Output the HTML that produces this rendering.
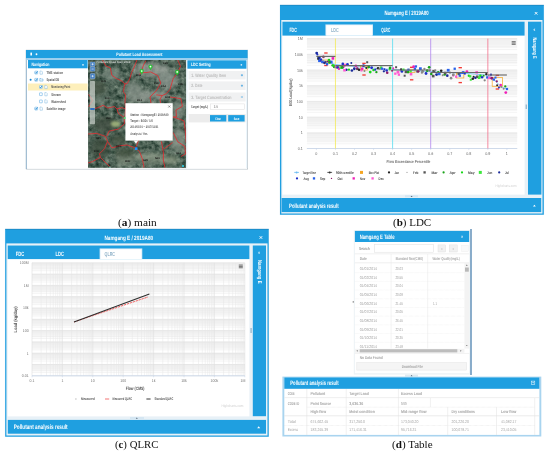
<!DOCTYPE html>
<html lang="en"><head><meta charset="utf-8"><title>Pollutant Load Assessment – figure</title>
<style>
html,body{margin:0;padding:0;background:#fff;}
body{width:550px;height:454px;position:relative;overflow:hidden;font-family:"Liberation Sans",sans-serif;}
svg{position:absolute;left:0;top:0;}
svg text{font-family:"Liberation Sans",sans-serif;text-rendering:geometricPrecision;}
.cap{position:absolute;font-family:"Liberation Serif",serif;font-size:11.2px;line-height:12px;color:#111;white-space:nowrap;transform-origin:0 0;}
.cap b{font-weight:bold;}
</style></head><body>
<svg width="550" height="454" viewBox="0 0 550 454">
<g id="fig-a">
<rect x="25.90" y="49.80" width="222.10" height="119.60" fill="#a9b4bc" />
<rect x="26.50" y="50.00" width="220.90" height="118.80" fill="#fff" />
<rect x="26.50" y="58.00" width="220.90" height="2.40" fill="#e4f1fa" />
<line x1="26.30" y1="50.00" x2="26.30" y2="169.00" stroke="#6f9fc6" stroke-width="0.6" />
<rect x="26.00" y="50.00" width="221.60" height="8.40" fill="#1f9fe0" />
<rect x="26.00" y="58.40" width="221.60" height="1.60" fill="#9fd0ee" />
<text x="116.30" y="55.95" font-size="4.58" fill="#fff" font-weight="bold" text-anchor="start" textLength="46.20" lengthAdjust="spacingAndGlyphs" >Pollutant Load Assessment</text>
<rect x="30.40" y="52.60" width="1.60" height="3.00" fill="#fff" rx="0.5"/>
<rect x="35.60" y="53.20" width="1.80" height="2.00" fill="#fff" rx="0.9"/>
<rect x="27.40" y="60.00" width="60.40" height="108.60" fill="#fff" />
<rect x="28.00" y="60.00" width="59.60" height="8.30" fill="#1f9fe0" />
<text x="31.50" y="65.95" font-size="4.58" fill="#fff" font-weight="bold" text-anchor="start" textLength="18.00" lengthAdjust="spacingAndGlyphs" >Navigation</text>
<text x="82.00" y="65.70" font-size="4.17" fill="#fff" font-weight="bold" text-anchor="start" textLength="2.00" lengthAdjust="spacingAndGlyphs" >«</text>
<rect x="28.00" y="83.50" width="59.60" height="7.00" fill="#fdefbb" />
<rect x="34.80" y="71.20" width="2.80" height="2.80" fill="#fff" stroke="#6db3e6" stroke-width="0.6" rx="0.3"/><polyline points="35.30,72.60 36.00,73.40 37.50,71.40" fill="none" stroke="#1b86d0" stroke-width="0.9" />
<path d="M40.00 71.00 h1.5 l0.9 0.9 v2.3 h-2.4 z" fill="#fff" stroke="#7fb6dd" stroke-width="0.5"/>
<text x="46.40" y="74.03" font-size="3.96" fill="#555" font-weight="bold" text-anchor="start" textLength="16.60" lengthAdjust="spacingAndGlyphs" >TMS station</text>
<circle cx="30.6" cy="79.8" r="1" fill="#1b86d0"/>
<rect x="34.80" y="78.40" width="2.80" height="2.80" fill="#fff" stroke="#6db3e6" stroke-width="0.6" rx="0.3"/><polyline points="35.30,79.80 36.00,80.60 37.50,78.60" fill="none" stroke="#1b86d0" stroke-width="0.9" />
<path d="M39.80 78.50 h1.2 l0.5 0.5 h1.5 v2.1 h-3.2 z" fill="#eaf4fb" stroke="#5aa6dd" stroke-width="0.5"/>
<text x="46.40" y="81.23" font-size="3.96" fill="#555" font-weight="bold" text-anchor="start" textLength="12.80" lengthAdjust="spacingAndGlyphs" >Spatial DB</text>
<rect x="39.50" y="85.60" width="2.80" height="2.80" fill="#fff" stroke="#6db3e6" stroke-width="0.6" rx="0.3"/><polyline points="40.00,87.00 40.70,87.80 42.20,85.80" fill="none" stroke="#1b86d0" stroke-width="0.9" />
<path d="M44.80 85.40 h1.5 l0.9 0.9 v2.3 h-2.4 z" fill="#fff" stroke="#7fb6dd" stroke-width="0.5"/>
<text x="51.30" y="88.43" font-size="3.96" fill="#555" font-weight="bold" text-anchor="start" textLength="18.90" lengthAdjust="spacingAndGlyphs" >Monitoring Point</text>
<rect x="39.50" y="92.80" width="2.80" height="2.80" fill="#fff" stroke="#6db3e6" stroke-width="0.6" rx="0.3"/>
<path d="M44.80 92.60 h1.5 l0.9 0.9 v2.3 h-2.4 z" fill="#fff" stroke="#7fb6dd" stroke-width="0.5"/>
<text x="51.30" y="95.63" font-size="3.96" fill="#555" font-weight="bold" text-anchor="start" textLength="9.50" lengthAdjust="spacingAndGlyphs" >Stream</text>
<rect x="39.50" y="100.00" width="2.80" height="2.80" fill="#fff" stroke="#6db3e6" stroke-width="0.6" rx="0.3"/>
<path d="M44.80 99.80 h1.5 l0.9 0.9 v2.3 h-2.4 z" fill="#fff" stroke="#7fb6dd" stroke-width="0.5"/>
<text x="51.30" y="102.83" font-size="3.96" fill="#555" font-weight="bold" text-anchor="start" textLength="14.70" lengthAdjust="spacingAndGlyphs" >Watershed</text>
<rect x="34.80" y="107.20" width="2.80" height="2.80" fill="#fff" stroke="#6db3e6" stroke-width="0.6" rx="0.3"/><polyline points="35.30,108.60 36.00,109.40 37.50,107.40" fill="none" stroke="#1b86d0" stroke-width="0.9" />
<path d="M40.00 107.00 h1.5 l0.9 0.9 v2.3 h-2.4 z" fill="#fff" stroke="#7fb6dd" stroke-width="0.5"/>
<text x="46.40" y="110.03" font-size="3.96" fill="#555" font-weight="bold" text-anchor="start" textLength="19.20" lengthAdjust="spacingAndGlyphs" >Satellite image</text>
<defs>
<filter id="sat" x="0" y="0" width="100%" height="100%" color-interpolation-filters="sRGB">
<feTurbulence type="fractalNoise" baseFrequency="0.22" numOctaves="3" seed="11" result="n"/>
<feColorMatrix in="n" type="matrix" values="0.60 0.1 0 0 -0.045  0.56 0.12 0 0 0.045  0.54 0.1 0 0 0.02  0 0 0 0 1"/>
</filter>
<filter id="bl" x="-30%" y="-30%" width="160%" height="160%"><feGaussianBlur stdDeviation="2.2"/></filter>
<filter id="bl1" x="-30%" y="-30%" width="160%" height="160%"><feGaussianBlur stdDeviation="0.9"/></filter>
<clipPath id="mapclip"><rect x="88.10" y="60.00" width="98.10" height="107.80"/></clipPath>
</defs>
<g clip-path="url(#mapclip)">
<rect x="88.10" y="60.00" width="98.10" height="107.80" fill="#4f6557" />
<rect x="88.1" y="60" width="98.10" height="107.80" filter="url(#sat)" opacity="0.9"/>
<g filter="url(#bl)" opacity="0.75">
<ellipse cx="150" cy="70" rx="16" ry="7" fill="#9aa19a"/>
<ellipse cx="168" cy="80" rx="10" ry="9" fill="#929b94"/>
<ellipse cx="140" cy="96" rx="14" ry="6" fill="#9ba39b"/>
<ellipse cx="133" cy="90" rx="8" ry="8" fill="#8a958c"/>
<ellipse cx="160" cy="95" rx="9" ry="5" fill="#949d95"/>
<ellipse cx="112" cy="75" rx="9" ry="6" fill="#7f8f84"/>
<ellipse cx="178" cy="110" rx="6" ry="10" fill="#87948a"/>
<ellipse cx="178" cy="140" rx="7" ry="12" fill="#8f9a8e"/>
<ellipse cx="150" cy="158" rx="16" ry="6" fill="#8a9785"/>
<ellipse cx="125" cy="160" rx="10" ry="5" fill="#83907f"/>
<ellipse cx="170" cy="160" rx="9" ry="5" fill="#88957f"/>
<ellipse cx="100" cy="100" rx="6" ry="5" fill="#74877a"/>
<ellipse cx="160" cy="68" rx="10" ry="4" fill="#a3a8a2"/>
<ellipse cx="105" cy="125" rx="12" ry="8" fill="#3f4d3f"/>
<ellipse cx="100" cy="148" rx="9" ry="10" fill="#3e4b3d"/>
<ellipse cx="118" cy="140" rx="8" ry="6" fill="#445243"/>
<ellipse cx="98" cy="88" rx="8" ry="8" fill="#465544"/>
<ellipse cx="125" cy="153" rx="10" ry="5" fill="#465443"/>
<ellipse cx="160" cy="125" rx="6" ry="8" fill="#4a5847"/>
</g>
<ellipse cx="115.5" cy="124" rx="4.6" ry="3" fill="#9fb27c" filter="url(#bl1)" opacity="0.9"/>
<polyline points="102.50,60.00 105.80,65.90 110.40,67.90 111.80,75.20 116.40,78.50 121.00,80.50 125.00,83.80" fill="none" stroke="#e32a2e" stroke-width="0.85" stroke-linejoin="round" opacity="0.95"/>
<polyline points="136.90,60.00 134.20,67.30 131.60,72.50 129.60,79.10 127.00,83.80 125.00,83.80 124.30,86.40 123.40,91.70 125.60,95.00 125.00,101.60 125.60,108.90 125.00,116.60" fill="none" stroke="#e32a2e" stroke-width="0.85" stroke-linejoin="round" opacity="0.95"/>
<polyline points="146.00,60.60 143.50,65.00 142.20,69.00 141.00,72.50 139.50,74.50" fill="none" stroke="#e32a2e" stroke-width="0.85" stroke-linejoin="round" opacity="0.95"/>
<polyline points="140.50,72.70 146.00,72.60 150.50,71.90 154.80,74.00 157.80,75.50 160.80,83.00 156.20,90.90 150.00,97.00 151.00,103.20" fill="none" stroke="#e32a2e" stroke-width="0.85" stroke-linejoin="round" opacity="0.95"/>
<polyline points="156.20,94.90 162.40,95.50" fill="none" stroke="#e32a2e" stroke-width="0.85" stroke-linejoin="round" opacity="0.95"/>
<polyline points="177.70,60.00 180.50,66.30 177.20,73.60 173.20,78.50 170.00,89.30 166.50,93.50 162.40,95.50 160.00,99.00 160.50,103.00" fill="none" stroke="#e32a2e" stroke-width="0.85" stroke-linejoin="round" opacity="0.95"/>
<polyline points="170.00,97.00 180.90,98.60 182.40,106.30 176.00,110.00 176.40,117.00 173.20,117.00" fill="none" stroke="#e32a2e" stroke-width="0.85" stroke-linejoin="round" opacity="0.95"/>
<polyline points="173.20,117.00 184.00,120.80 185.50,132.50 186.20,143.00" fill="none" stroke="#e32a2e" stroke-width="0.85" stroke-linejoin="round" opacity="0.95"/>
<polyline points="173.20,132.50 177.80,141.80 184.90,146.40 185.50,154.00 180.90,156.50" fill="none" stroke="#e32a2e" stroke-width="0.85" stroke-linejoin="round" opacity="0.95"/>
<polyline points="88.60,94.30 92.60,100.30 88.60,106.90" fill="none" stroke="#e32a2e" stroke-width="0.85" stroke-linejoin="round" opacity="0.95"/>
<polyline points="92.00,109.50 97.90,107.60 103.20,105.30 107.80,108.00 114.40,106.60 117.00,108.90 118.40,113.50 124.30,117.50 124.30,123.90 118.50,129.00 109.00,131.20 106.80,136.30" fill="none" stroke="#e32a2e" stroke-width="0.85" stroke-linejoin="round" opacity="0.95"/>
<polyline points="117.00,108.90 121.70,107.60 125.60,108.90" fill="none" stroke="#e32a2e" stroke-width="0.85" stroke-linejoin="round" opacity="0.95"/>
<polyline points="88.00,134.00 96.60,133.40 105.40,136.30 107.50,141.40 104.60,148.60 99.50,153.70 100.30,157.40 92.30,161.70 88.00,163.00" fill="none" stroke="#e32a2e" stroke-width="0.85" stroke-linejoin="round" opacity="0.95"/>
<polyline points="107.50,141.40 111.90,147.90 119.90,145.70 127.20,145.00 135.20,147.90 139.50,151.50 142.30,158.70 143.90,166.40 143.50,167.80" fill="none" stroke="#e32a2e" stroke-width="0.85" stroke-linejoin="round" opacity="0.95"/>
<polyline points="135.90,147.20 138.10,141.40 138.50,139.00" fill="none" stroke="#e32a2e" stroke-width="0.85" stroke-linejoin="round" opacity="0.95"/>
<polyline points="161.40,141.40 163.50,153.00 163.30,160.00 165.00,167.80" fill="none" stroke="#e32a2e" stroke-width="0.85" stroke-linejoin="round" opacity="0.95"/>
<polyline points="172.60,142.50 164.00,149.00" fill="none" stroke="#e32a2e" stroke-width="0.85" stroke-linejoin="round" opacity="0.95"/>
<polyline points="100.30,157.40 106.00,163.00 111.20,167.80" fill="none" stroke="#e32a2e" stroke-width="0.85" stroke-linejoin="round" opacity="0.95"/>
<text x="101.00" y="81.50" font-size="2.5" fill="#111" font-weight="bold" text-anchor="start" textLength="5.20" lengthAdjust="spacingAndGlyphs" >RLP4</text>
<text x="105.00" y="98.50" font-size="2.5" fill="#111" font-weight="bold" text-anchor="start" textLength="5.20" lengthAdjust="spacingAndGlyphs" >KRA2</text>
<text x="154.00" y="84.00" font-size="2.5" fill="#111" font-weight="bold" text-anchor="start" textLength="5.20" lengthAdjust="spacingAndGlyphs" >KNA2</text>
<text x="163.00" y="64.00" font-size="2.5" fill="#111" font-weight="bold" text-anchor="start" textLength="5.20" lengthAdjust="spacingAndGlyphs" >KM1</text>
<text x="136.00" y="76.00" font-size="2.5" fill="#111" font-weight="bold" text-anchor="start" textLength="5.20" lengthAdjust="spacingAndGlyphs" >KH</text>
<text x="106.00" y="119.00" font-size="2.5" fill="#111" font-weight="bold" text-anchor="start" textLength="5.20" lengthAdjust="spacingAndGlyphs" >NNA1</text>
<text x="96.00" y="139.00" font-size="2.5" fill="#111" font-weight="bold" text-anchor="start" textLength="5.20" lengthAdjust="spacingAndGlyphs" >NIP2</text>
<text x="116.00" y="146.60" font-size="2.5" fill="#111" font-weight="bold" text-anchor="start" textLength="5.20" lengthAdjust="spacingAndGlyphs" >NIK3</text>
<text x="94.00" y="152.00" font-size="2.5" fill="#111" font-weight="bold" text-anchor="start" textLength="5.20" lengthAdjust="spacingAndGlyphs" >KUM3</text>
<text x="125.00" y="162.00" font-size="2.5" fill="#111" font-weight="bold" text-anchor="start" textLength="5.20" lengthAdjust="spacingAndGlyphs" >NRM2</text>
<text x="155.00" y="158.50" font-size="2.5" fill="#111" font-weight="bold" text-anchor="start" textLength="5.20" lengthAdjust="spacingAndGlyphs" >NJU</text>
<text x="165.00" y="98.00" font-size="2.5" fill="#111" font-weight="bold" text-anchor="start" textLength="5.20" lengthAdjust="spacingAndGlyphs" >HM</text>
<text x="178.00" y="85.00" font-size="2.5" fill="#111" font-weight="bold" text-anchor="start" textLength="5.20" lengthAdjust="spacingAndGlyphs" >HA</text>
<text x="143.00" y="161.00" font-size="2.5" fill="#111" font-weight="bold" text-anchor="start" textLength="5.20" lengthAdjust="spacingAndGlyphs" >GM1</text>
<text x="137.00" y="101.00" font-size="2.5" fill="#111" font-weight="bold" text-anchor="start" textLength="5.20" lengthAdjust="spacingAndGlyphs" >KL1</text>
<text x="176.00" y="153.50" font-size="2.5" fill="#111" font-weight="bold" text-anchor="start" textLength="5.20" lengthAdjust="spacingAndGlyphs" >SL1</text>
<text x="161.00" y="87.00" font-size="2.5" fill="#111" font-weight="bold" text-anchor="start" textLength="5.20" lengthAdjust="spacingAndGlyphs" >KAA</text>
<text x="96.50" y="63.30" font-size="2.4" fill="#e8e8e8" font-weight="normal" text-anchor="start" textLength="34.00" lengthAdjust="spacingAndGlyphs" >Pollutant Load Map  2019</text>
<rect x="90.20" y="62.00" width="4.80" height="4.50" fill="#4580c4" rx="0.7" stroke="#c9dcf0" stroke-width="0.35"/>
<rect x="90.20" y="66.80" width="4.80" height="4.50" fill="#4580c4" rx="0.7" stroke="#c9dcf0" stroke-width="0.35"/>
<rect x="90.20" y="73.60" width="4.80" height="5.20" fill="#4580c4" rx="0.7" stroke="#c9dcf0" stroke-width="0.35"/>
<line x1="91.50" y1="64.25" x2="93.70" y2="64.25" stroke="#fff" stroke-width="0.6" />
<line x1="92.60" y1="63.15" x2="92.60" y2="65.35" stroke="#fff" stroke-width="0.6" />
<line x1="91.50" y1="69.05" x2="93.70" y2="69.05" stroke="#fff" stroke-width="0.6" />
<line x1="91.50" y1="76.20" x2="93.70" y2="76.20" stroke="#fff" stroke-width="0.6" />
<line x1="92.60" y1="75.10" x2="92.60" y2="77.30" stroke="#fff" stroke-width="0.6" />
<rect x="89.80" y="81.10" width="5.20" height="43.10" fill="#d3d8d3" rx="0.8" opacity="0.68"/>
<rect x="90.20" y="108.00" width="4.60" height="1.90" fill="#2f6fc0" rx="0.4"/>
<path d="M141.70 74.50 C141.10 72.80 139.80 72.20 139.80 71.00 a1.9 1.9 0 1 1 3.8 0 C143.60 72.20 142.30 72.80 141.70 74.50z" fill="#2fd23c" stroke="#1c9a27" stroke-width="0.3"/>
<circle cx="141.7" cy="71.0" r="0.85" fill="#f4fff4"/>
<path d="M150.50 70.10 C149.90 68.40 148.60 67.80 148.60 66.60 a1.9 1.9 0 1 1 3.8 0 C152.40 67.80 151.10 68.40 150.50 70.10z" fill="#2fd23c" stroke="#1c9a27" stroke-width="0.3"/>
<circle cx="150.5" cy="66.6" r="0.85" fill="#f4fff4"/>
<path d="M177.20 75.40 C176.60 73.70 175.30 73.10 175.30 71.90 a1.9 1.9 0 1 1 3.8 0 C179.10 73.10 177.80 73.70 177.20 75.40z" fill="#2fd23c" stroke="#1c9a27" stroke-width="0.3"/>
<circle cx="177.2" cy="71.89999999999999" r="0.85" fill="#f4fff4"/>
<circle cx="183" cy="166" r="1.1" fill="#2bd0e8"/>
<circle cx="110" cy="167.3" r="0.9" fill="#6fe0d0"/>
<rect x="125.40" y="103.20" width="47.30" height="37.40" fill="#fff" />
<path d="M133.6 140.4 L135.9 143.6 L138.3 140.4z" fill="#fff"/>
<polyline points="168.30,105.50 170.30,107.50" fill="none" stroke="#555" stroke-width="0.55" /><polyline points="170.30,105.50 168.30,107.50" fill="none" stroke="#555" stroke-width="0.55" />
<text x="130.20" y="115.61" font-size="3.64" fill="#606060" font-weight="bold" text-anchor="start" textLength="38.30" lengthAdjust="spacingAndGlyphs" >Station : NamgangE / 2019A80</text>
<text x="130.20" y="121.91" font-size="3.64" fill="#606060" font-weight="bold" text-anchor="start" textLength="22.60" lengthAdjust="spacingAndGlyphs" >Target : BOD / 3.5</text>
<text x="130.20" y="128.21" font-size="3.64" fill="#606060" font-weight="bold" text-anchor="start" textLength="28.30" lengthAdjust="spacingAndGlyphs" >2014/01/01 ~ 2017/12/31</text>
<text x="130.20" y="134.81" font-size="3.64" fill="#606060" font-weight="bold" text-anchor="start" textLength="17.30" lengthAdjust="spacingAndGlyphs" >Analysis / Yes</text>
<circle cx="124.7" cy="118" r="1" fill="#52e070"/>
<rect x="134.90" y="147.30" width="2.60" height="2.60" fill="#1e90ff" rx="0.5"/>
</g>
<rect x="186.60" y="60.30" width="60.30" height="108.30" fill="#fff" />
<line x1="187.10" y1="60.30" x2="187.10" y2="168.00" stroke="#d9ecf8" stroke-width="0.6" />
<line x1="246.70" y1="60.30" x2="246.70" y2="168.00" stroke="#d9ecf8" stroke-width="0.6" />
<rect x="187.40" y="60.30" width="59.00" height="8.40" fill="#1f9fe0" />
<text x="191.00" y="66.15" font-size="4.58" fill="#fff" font-weight="bold" text-anchor="start" textLength="19.70" lengthAdjust="spacingAndGlyphs" >LDC Setting</text>
<text x="240.60" y="65.90" font-size="4.17" fill="#fff" font-weight="bold" text-anchor="start" textLength="1.80" lengthAdjust="spacingAndGlyphs" >»</text>
<rect x="188.60" y="71.00" width="57.00" height="8.40" fill="#f0f1f2" />
<text x="191.20" y="76.85" font-size="4.58" fill="#bdbdbd" font-weight="bold" text-anchor="start" textLength="35.10" lengthAdjust="spacingAndGlyphs" >1. Water Quality Item</text>
<line x1="240.90" y1="75.20" x2="243.00" y2="75.20" stroke="#4aa7e2" stroke-width="0.8" />
<line x1="241.95" y1="74.15" x2="241.95" y2="76.25" stroke="#4aa7e2" stroke-width="0.8" />
<rect x="188.60" y="81.40" width="57.00" height="8.60" fill="#f0f1f2" />
<text x="191.20" y="87.35" font-size="4.58" fill="#bdbdbd" font-weight="bold" text-anchor="start" textLength="11.30" lengthAdjust="spacingAndGlyphs" >2. Date</text>
<line x1="240.90" y1="85.70" x2="243.00" y2="85.70" stroke="#4aa7e2" stroke-width="0.8" />
<line x1="241.95" y1="84.65" x2="241.95" y2="86.75" stroke="#4aa7e2" stroke-width="0.8" />
<rect x="188.60" y="92.50" width="57.00" height="9.00" fill="#f0f1f2" />
<text x="191.20" y="98.65" font-size="4.58" fill="#bdbdbd" font-weight="bold" text-anchor="start" textLength="40.40" lengthAdjust="spacingAndGlyphs" >3. Target Concentration</text>
<line x1="240.90" y1="97.00" x2="243.00" y2="97.00" stroke="#4aa7e2" stroke-width="0.8" />
<text x="191.00" y="108.25" font-size="3.75" fill="#555" font-weight="bold" text-anchor="start" textLength="17.00" lengthAdjust="spacingAndGlyphs" >Target (mg/L)</text>
<rect x="210.70" y="103.90" width="33.90" height="5.80" fill="#fff" stroke="#dcdcdc" stroke-width="0.5"/>
<text x="213.80" y="108.25" font-size="3.75" fill="#666" font-weight="normal" text-anchor="start" textLength="4.00" lengthAdjust="spacingAndGlyphs" >3.5</text>
<rect x="188.60" y="114.00" width="57.00" height="8.40" fill="#ececec" />
<rect x="210.00" y="115.10" width="16.30" height="6.40" fill="#1f9fe0" />
<rect x="228.20" y="115.10" width="16.40" height="6.40" fill="#1f9fe0" />
<text x="215.30" y="119.57" font-size="3.54" fill="#fff" font-weight="bold" text-anchor="start" textLength="5.70" lengthAdjust="spacingAndGlyphs" >Clear</text>
<text x="233.70" y="119.57" font-size="3.54" fill="#fff" font-weight="bold" text-anchor="start" textLength="5.50" lengthAdjust="spacingAndGlyphs" >Save</text>
</g>
<g id="fig-b">
<rect x="279.70" y="4.80" width="264.40" height="210.20" fill="#d9ebf6" />
<rect x="280.00" y="5.00" width="263.80" height="209.70" fill="#1f9fe0" />
<line x1="280.00" y1="5.25" x2="543.80" y2="5.25" stroke="#1877ad" stroke-width="0.5" />
<text x="384.50" y="15.34" font-size="6.22" fill="#fff" font-weight="bold" text-anchor="start" textLength="44.10" lengthAdjust="spacingAndGlyphs" >Namgang E / 2019A80</text>
<polyline points="534.80,12.00 537.40,14.60" fill="none" stroke="#fff" stroke-width="0.9" /><polyline points="537.40,12.00 534.80,14.60" fill="none" stroke="#fff" stroke-width="0.9" />
<rect x="281.30" y="20.00" width="261.20" height="193.50" fill="#e8f1f7" />
<rect x="282.40" y="21.70" width="242.20" height="172.90" fill="#fff" />
<rect x="282.40" y="21.70" width="242.20" height="13.90" fill="#1f9fe0" />
<text x="289.40" y="31.70" font-size="6.1" fill="#fff" font-weight="bold" text-anchor="start" textLength="7.40" lengthAdjust="spacingAndGlyphs" >FDC</text>
<rect x="325.40" y="24.40" width="47.60" height="11.20" fill="#cfe6f5" />
<rect x="326.20" y="25.20" width="46.00" height="10.40" fill="#fff" />
<text x="331.00" y="31.90" font-size="5.84" fill="#93b4ca" font-weight="bold" text-anchor="start" textLength="7.60" lengthAdjust="spacingAndGlyphs" >LDC</text>
<text x="381.20" y="31.70" font-size="6.1" fill="#fff" font-weight="bold" text-anchor="start" textLength="9.00" lengthAdjust="spacingAndGlyphs" >QLRC</text>
<rect x="528.00" y="21.70" width="13.40" height="172.90" fill="#1f9fe0" />
<text x="533.40" y="30.83" font-size="5.08" fill="#fff" font-weight="bold" text-anchor="start" textLength="1.80" lengthAdjust="spacingAndGlyphs" >«</text>
<text transform="translate(533.1,37.5) rotate(90)" font-size="5.4" fill="#fff" font-weight="bold" textLength="21" lengthAdjust="spacingAndGlyphs">Namgang E</text>
<rect x="525.60" y="104.50" width="1.40" height="4.50" fill="#9bbbd0" />
<rect x="281.60" y="198.00" width="259.60" height="14.10" fill="#1f9fe0" />
<text x="289.00" y="207.69" font-size="6.35" fill="#fff" font-weight="bold" text-anchor="start" textLength="49.60" lengthAdjust="spacingAndGlyphs" >Pollutant analysis result</text>
<path d="M533 206.6 l1.4 -1.8 l1.4 1.8z" fill="#fff"/>
<rect x="405.00" y="195.30" width="13.00" height="2.00" fill="#d5e6f2" />
<path d="M410.6 196.9 l1 -1.2 l1 1.2z" fill="#567"/>
<rect x="306.90" y="38.60" width="210.30" height="9.73" fill="#f8f8f8" /><rect x="306.90" y="38.60" width="210.30" height="5.65" fill="#f8f8f8" /><rect x="306.90" y="54.30" width="210.30" height="9.73" fill="#f8f8f8" /><rect x="306.90" y="54.30" width="210.30" height="5.65" fill="#f8f8f8" /><rect x="306.90" y="70.00" width="210.30" height="9.73" fill="#f8f8f8" /><rect x="306.90" y="70.00" width="210.30" height="5.65" fill="#f8f8f8" /><rect x="306.90" y="85.70" width="210.30" height="9.73" fill="#f8f8f8" /><rect x="306.90" y="85.70" width="210.30" height="5.65" fill="#f8f8f8" /><rect x="306.90" y="101.40" width="210.30" height="9.73" fill="#f8f8f8" /><rect x="306.90" y="101.40" width="210.30" height="5.65" fill="#f8f8f8" /><rect x="306.90" y="117.10" width="210.30" height="9.73" fill="#f8f8f8" /><rect x="306.90" y="117.10" width="210.30" height="5.65" fill="#f8f8f8" /><rect x="306.90" y="132.80" width="210.30" height="9.73" fill="#f8f8f8" /><rect x="306.90" y="132.80" width="210.30" height="5.65" fill="#f8f8f8" /><line x1="306.90" y1="49.57" x2="517.20" y2="49.57" stroke="#e9e9e9" stroke-width="0.5" /><line x1="306.90" y1="46.81" x2="517.20" y2="46.81" stroke="#e9e9e9" stroke-width="0.5" /><line x1="306.90" y1="44.85" x2="517.20" y2="44.85" stroke="#e9e9e9" stroke-width="0.5" /><line x1="306.90" y1="43.33" x2="517.20" y2="43.33" stroke="#e9e9e9" stroke-width="0.5" /><line x1="306.90" y1="42.08" x2="517.20" y2="42.08" stroke="#e9e9e9" stroke-width="0.5" /><line x1="306.90" y1="41.03" x2="517.20" y2="41.03" stroke="#e9e9e9" stroke-width="0.5" /><line x1="306.90" y1="40.12" x2="517.20" y2="40.12" stroke="#e9e9e9" stroke-width="0.5" /><line x1="306.90" y1="39.32" x2="517.20" y2="39.32" stroke="#e9e9e9" stroke-width="0.5" /><line x1="306.90" y1="65.27" x2="517.20" y2="65.27" stroke="#e9e9e9" stroke-width="0.5" /><line x1="306.90" y1="62.51" x2="517.20" y2="62.51" stroke="#e9e9e9" stroke-width="0.5" /><line x1="306.90" y1="60.55" x2="517.20" y2="60.55" stroke="#e9e9e9" stroke-width="0.5" /><line x1="306.90" y1="59.03" x2="517.20" y2="59.03" stroke="#e9e9e9" stroke-width="0.5" /><line x1="306.90" y1="57.78" x2="517.20" y2="57.78" stroke="#e9e9e9" stroke-width="0.5" /><line x1="306.90" y1="56.73" x2="517.20" y2="56.73" stroke="#e9e9e9" stroke-width="0.5" /><line x1="306.90" y1="55.82" x2="517.20" y2="55.82" stroke="#e9e9e9" stroke-width="0.5" /><line x1="306.90" y1="55.02" x2="517.20" y2="55.02" stroke="#e9e9e9" stroke-width="0.5" /><line x1="306.90" y1="80.97" x2="517.20" y2="80.97" stroke="#e9e9e9" stroke-width="0.5" /><line x1="306.90" y1="78.21" x2="517.20" y2="78.21" stroke="#e9e9e9" stroke-width="0.5" /><line x1="306.90" y1="76.25" x2="517.20" y2="76.25" stroke="#e9e9e9" stroke-width="0.5" /><line x1="306.90" y1="74.73" x2="517.20" y2="74.73" stroke="#e9e9e9" stroke-width="0.5" /><line x1="306.90" y1="73.48" x2="517.20" y2="73.48" stroke="#e9e9e9" stroke-width="0.5" /><line x1="306.90" y1="72.43" x2="517.20" y2="72.43" stroke="#e9e9e9" stroke-width="0.5" /><line x1="306.90" y1="71.52" x2="517.20" y2="71.52" stroke="#e9e9e9" stroke-width="0.5" /><line x1="306.90" y1="70.72" x2="517.20" y2="70.72" stroke="#e9e9e9" stroke-width="0.5" /><line x1="306.90" y1="96.67" x2="517.20" y2="96.67" stroke="#e9e9e9" stroke-width="0.5" /><line x1="306.90" y1="93.91" x2="517.20" y2="93.91" stroke="#e9e9e9" stroke-width="0.5" /><line x1="306.90" y1="91.95" x2="517.20" y2="91.95" stroke="#e9e9e9" stroke-width="0.5" /><line x1="306.90" y1="90.43" x2="517.20" y2="90.43" stroke="#e9e9e9" stroke-width="0.5" /><line x1="306.90" y1="89.18" x2="517.20" y2="89.18" stroke="#e9e9e9" stroke-width="0.5" /><line x1="306.90" y1="88.13" x2="517.20" y2="88.13" stroke="#e9e9e9" stroke-width="0.5" /><line x1="306.90" y1="87.22" x2="517.20" y2="87.22" stroke="#e9e9e9" stroke-width="0.5" /><line x1="306.90" y1="86.42" x2="517.20" y2="86.42" stroke="#e9e9e9" stroke-width="0.5" /><line x1="306.90" y1="112.37" x2="517.20" y2="112.37" stroke="#e9e9e9" stroke-width="0.5" /><line x1="306.90" y1="109.61" x2="517.20" y2="109.61" stroke="#e9e9e9" stroke-width="0.5" /><line x1="306.90" y1="107.65" x2="517.20" y2="107.65" stroke="#e9e9e9" stroke-width="0.5" /><line x1="306.90" y1="106.13" x2="517.20" y2="106.13" stroke="#e9e9e9" stroke-width="0.5" /><line x1="306.90" y1="104.88" x2="517.20" y2="104.88" stroke="#e9e9e9" stroke-width="0.5" /><line x1="306.90" y1="103.83" x2="517.20" y2="103.83" stroke="#e9e9e9" stroke-width="0.5" /><line x1="306.90" y1="102.92" x2="517.20" y2="102.92" stroke="#e9e9e9" stroke-width="0.5" /><line x1="306.90" y1="102.12" x2="517.20" y2="102.12" stroke="#e9e9e9" stroke-width="0.5" /><line x1="306.90" y1="128.07" x2="517.20" y2="128.07" stroke="#e9e9e9" stroke-width="0.5" /><line x1="306.90" y1="125.31" x2="517.20" y2="125.31" stroke="#e9e9e9" stroke-width="0.5" /><line x1="306.90" y1="123.35" x2="517.20" y2="123.35" stroke="#e9e9e9" stroke-width="0.5" /><line x1="306.90" y1="121.83" x2="517.20" y2="121.83" stroke="#e9e9e9" stroke-width="0.5" /><line x1="306.90" y1="120.58" x2="517.20" y2="120.58" stroke="#e9e9e9" stroke-width="0.5" /><line x1="306.90" y1="119.53" x2="517.20" y2="119.53" stroke="#e9e9e9" stroke-width="0.5" /><line x1="306.90" y1="118.62" x2="517.20" y2="118.62" stroke="#e9e9e9" stroke-width="0.5" /><line x1="306.90" y1="117.82" x2="517.20" y2="117.82" stroke="#e9e9e9" stroke-width="0.5" /><line x1="306.90" y1="143.77" x2="517.20" y2="143.77" stroke="#e9e9e9" stroke-width="0.5" /><line x1="306.90" y1="141.01" x2="517.20" y2="141.01" stroke="#e9e9e9" stroke-width="0.5" /><line x1="306.90" y1="139.05" x2="517.20" y2="139.05" stroke="#e9e9e9" stroke-width="0.5" /><line x1="306.90" y1="137.53" x2="517.20" y2="137.53" stroke="#e9e9e9" stroke-width="0.5" /><line x1="306.90" y1="136.28" x2="517.20" y2="136.28" stroke="#e9e9e9" stroke-width="0.5" /><line x1="306.90" y1="135.23" x2="517.20" y2="135.23" stroke="#e9e9e9" stroke-width="0.5" /><line x1="306.90" y1="134.32" x2="517.20" y2="134.32" stroke="#e9e9e9" stroke-width="0.5" /><line x1="306.90" y1="133.52" x2="517.20" y2="133.52" stroke="#e9e9e9" stroke-width="0.5" /><line x1="306.90" y1="38.60" x2="517.20" y2="38.60" stroke="#dcdcdc" stroke-width="0.6" /><line x1="306.90" y1="54.30" x2="517.20" y2="54.30" stroke="#dcdcdc" stroke-width="0.6" /><line x1="306.90" y1="70.00" x2="517.20" y2="70.00" stroke="#dcdcdc" stroke-width="0.6" /><line x1="306.90" y1="85.70" x2="517.20" y2="85.70" stroke="#dcdcdc" stroke-width="0.6" /><line x1="306.90" y1="101.40" x2="517.20" y2="101.40" stroke="#dcdcdc" stroke-width="0.6" /><line x1="306.90" y1="117.10" x2="517.20" y2="117.10" stroke="#dcdcdc" stroke-width="0.6" /><line x1="306.90" y1="132.80" x2="517.20" y2="132.80" stroke="#dcdcdc" stroke-width="0.6" /><line x1="306.90" y1="148.50" x2="517.20" y2="148.50" stroke="#dcdcdc" stroke-width="0.6" />
<line x1="306.90" y1="148.50" x2="517.20" y2="148.50" stroke="#c3d3ea" stroke-width="0.7" />
<text x="297.74" y="40.15" font-size="4.32" fill="#6e6e6e" font-weight="normal" text-anchor="start" textLength="5.16" lengthAdjust="spacingAndGlyphs" >1M</text>
<text x="294.85" y="55.85" font-size="4.32" fill="#6e6e6e" font-weight="normal" text-anchor="start" textLength="8.05" lengthAdjust="spacingAndGlyphs" >100k</text>
<text x="296.91" y="71.55" font-size="4.32" fill="#6e6e6e" font-weight="normal" text-anchor="start" textLength="5.99" lengthAdjust="spacingAndGlyphs" >10k</text>
<text x="298.98" y="87.25" font-size="4.32" fill="#6e6e6e" font-weight="normal" text-anchor="start" textLength="3.92" lengthAdjust="spacingAndGlyphs" >1k</text>
<text x="296.70" y="102.95" font-size="4.32" fill="#6e6e6e" font-weight="normal" text-anchor="start" textLength="6.20" lengthAdjust="spacingAndGlyphs" >100</text>
<text x="298.77" y="118.65" font-size="4.32" fill="#6e6e6e" font-weight="normal" text-anchor="start" textLength="4.13" lengthAdjust="spacingAndGlyphs" >10</text>
<text x="300.83" y="134.35" font-size="4.32" fill="#6e6e6e" font-weight="normal" text-anchor="start" textLength="2.07" lengthAdjust="spacingAndGlyphs" >1</text>
<text x="297.74" y="150.05" font-size="4.32" fill="#6e6e6e" font-weight="normal" text-anchor="start" textLength="5.16" lengthAdjust="spacingAndGlyphs" >0.1</text>
<line x1="316.40" y1="148.50" x2="316.40" y2="150.10" stroke="#c3d3ea" stroke-width="0.5" />
<text x="315.37" y="154.85" font-size="4.32" fill="#6e6e6e" font-weight="normal" text-anchor="start" textLength="2.07" lengthAdjust="spacingAndGlyphs" >0</text>
<line x1="335.45" y1="148.50" x2="335.45" y2="150.10" stroke="#c3d3ea" stroke-width="0.5" />
<text x="332.87" y="154.85" font-size="4.32" fill="#6e6e6e" font-weight="normal" text-anchor="start" textLength="5.16" lengthAdjust="spacingAndGlyphs" >0.1</text>
<line x1="354.50" y1="148.50" x2="354.50" y2="150.10" stroke="#c3d3ea" stroke-width="0.5" />
<text x="351.92" y="154.85" font-size="4.32" fill="#6e6e6e" font-weight="normal" text-anchor="start" textLength="5.16" lengthAdjust="spacingAndGlyphs" >0.2</text>
<line x1="373.55" y1="148.50" x2="373.55" y2="150.10" stroke="#c3d3ea" stroke-width="0.5" />
<text x="370.97" y="154.85" font-size="4.32" fill="#6e6e6e" font-weight="normal" text-anchor="start" textLength="5.16" lengthAdjust="spacingAndGlyphs" >0.3</text>
<line x1="392.60" y1="148.50" x2="392.60" y2="150.10" stroke="#c3d3ea" stroke-width="0.5" />
<text x="390.02" y="154.85" font-size="4.32" fill="#6e6e6e" font-weight="normal" text-anchor="start" textLength="5.16" lengthAdjust="spacingAndGlyphs" >0.4</text>
<line x1="411.65" y1="148.50" x2="411.65" y2="150.10" stroke="#c3d3ea" stroke-width="0.5" />
<text x="409.07" y="154.85" font-size="4.32" fill="#6e6e6e" font-weight="normal" text-anchor="start" textLength="5.16" lengthAdjust="spacingAndGlyphs" >0.5</text>
<line x1="430.70" y1="148.50" x2="430.70" y2="150.10" stroke="#c3d3ea" stroke-width="0.5" />
<text x="428.12" y="154.85" font-size="4.32" fill="#6e6e6e" font-weight="normal" text-anchor="start" textLength="5.16" lengthAdjust="spacingAndGlyphs" >0.6</text>
<line x1="449.75" y1="148.50" x2="449.75" y2="150.10" stroke="#c3d3ea" stroke-width="0.5" />
<text x="447.17" y="154.85" font-size="4.32" fill="#6e6e6e" font-weight="normal" text-anchor="start" textLength="5.16" lengthAdjust="spacingAndGlyphs" >0.7</text>
<line x1="468.80" y1="148.50" x2="468.80" y2="150.10" stroke="#c3d3ea" stroke-width="0.5" />
<text x="466.22" y="154.85" font-size="4.32" fill="#6e6e6e" font-weight="normal" text-anchor="start" textLength="5.16" lengthAdjust="spacingAndGlyphs" >0.8</text>
<line x1="487.85" y1="148.50" x2="487.85" y2="150.10" stroke="#c3d3ea" stroke-width="0.5" />
<text x="485.27" y="154.85" font-size="4.32" fill="#6e6e6e" font-weight="normal" text-anchor="start" textLength="5.16" lengthAdjust="spacingAndGlyphs" >0.9</text>
<line x1="506.90" y1="148.50" x2="506.90" y2="150.10" stroke="#c3d3ea" stroke-width="0.5" />
<text x="505.87" y="154.85" font-size="4.32" fill="#6e6e6e" font-weight="normal" text-anchor="start" textLength="2.07" lengthAdjust="spacingAndGlyphs" >1</text>
<text x="386.60" y="162.66" font-size="4.06" fill="#707070" font-weight="bold" text-anchor="start" textLength="43.80" lengthAdjust="spacingAndGlyphs" >Flow Exceedance Percentile</text>
<text transform="translate(291.5,106.3) rotate(-90)" font-size="4.2" fill="#666" font-weight="bold" textLength="27.8" lengthAdjust="spacingAndGlyphs">BOD Load (Kg/day)</text>
<line x1="335.45" y1="38.60" x2="335.45" y2="148.50" stroke="#f3ea55" stroke-width="0.8" />
<line x1="392.60" y1="38.60" x2="392.60" y2="148.50" stroke="#55dcef" stroke-width="0.8" />
<line x1="430.70" y1="38.60" x2="430.70" y2="148.50" stroke="#b084ee" stroke-width="0.8" />
<line x1="487.85" y1="38.60" x2="487.85" y2="148.50" stroke="#f2708a" stroke-width="0.8" />
<polyline points="316.40,56.20 320.21,59.00 325.92,61.50 335.45,64.50 354.50,66.50 373.55,68.00 392.60,69.50 411.65,70.60 430.70,71.60 449.75,72.60 468.80,73.60 487.85,75.20 493.56,79.00 499.28,85.00 503.09,87.80 506.90,89.00" fill="none" stroke="#6cbcf2" stroke-width="0.8" />
<rect x="322.72" y="60.00" width="6.40" height="3.20" fill="none" stroke="#f5a623" stroke-width="0.7"/>
<line x1="324.22" y1="53.00" x2="327.62" y2="53.00" stroke="#f23a34" stroke-width="1.35" />
<line x1="324.22" y1="65.50" x2="327.62" y2="65.50" stroke="#f23a34" stroke-width="1.35" />
<rect x="360.62" y="66.50" width="6.80" height="3.50" fill="none" stroke="#f5a623" stroke-width="0.7"/>
<line x1="362.32" y1="63.40" x2="365.72" y2="63.40" stroke="#f23a34" stroke-width="1.35" />
<line x1="362.32" y1="75.00" x2="365.72" y2="75.00" stroke="#f23a34" stroke-width="1.35" />
<rect x="408.25" y="69.20" width="6.80" height="3.40" fill="none" stroke="#f5a623" stroke-width="0.7"/>
<line x1="409.95" y1="67.30" x2="413.35" y2="67.30" stroke="#f23a34" stroke-width="1.35" />
<line x1="409.95" y1="79.80" x2="413.35" y2="79.80" stroke="#f23a34" stroke-width="1.35" />
<rect x="456.63" y="73.20" width="7.20" height="4.80" fill="none" stroke="#f5a623" stroke-width="0.7"/>
<line x1="458.53" y1="67.70" x2="461.93" y2="67.70" stroke="#f23a34" stroke-width="1.35" />
<line x1="458.53" y1="82.60" x2="461.93" y2="82.60" stroke="#f23a34" stroke-width="1.35" />
<rect x="492.18" y="77.60" width="10.40" height="8.70" fill="none" stroke="#f5a623" stroke-width="0.7"/>
<line x1="495.68" y1="75.40" x2="499.07" y2="75.40" stroke="#f23a34" stroke-width="1.35" />
<line x1="495.68" y1="89.00" x2="499.07" y2="89.00" stroke="#f23a34" stroke-width="1.35" />
<rect x="317.30" y="56.85" width="2.00" height="2.00" fill="#555" />
<circle cx="318.33" cy="59.02" r="1.15" fill="#222"/>
<circle cx="319.28" cy="57.53" r="1.4" fill="#1a2a9a"/>
<circle cx="320.72" cy="61.07" r="1.0" fill="#8a1a6a"/>
<circle cx="323.38" cy="56.89" r="1.4" fill="#f020b8"/>
<circle cx="323.53" cy="56.82" r="1.0" fill="#19a319"/>
<rect x="324.65" y="60.92" width="2.00" height="2.00" fill="#555" />
<rect x="325.93" y="63.02" width="2.30" height="2.30" fill="#2a62ea" />
<circle cx="327.83" cy="61.39" r="1.0" fill="#8a1a6a"/>
<circle cx="329.90" cy="61.73" r="1.15" fill="#8a1a6a"/>
<rect x="329.81" y="60.64" width="2.80" height="2.80" fill="#2a62ea" />
<circle cx="332.43" cy="65.44" r="1.15" fill="#19a319"/>
<circle cx="334.32" cy="66.96" r="1.4" fill="#19a319"/>
<rect x="334.58" y="65.14" width="2.80" height="2.80" fill="#ff5ad2" />
<circle cx="336.56" cy="67.51" r="1.3" fill="#888"/>
<circle cx="337.78" cy="67.47" r="1.4" fill="#2030c8"/>
<circle cx="339.03" cy="68.71" r="1.3" fill="#f020b8"/>
<rect x="339.47" y="66.13" width="2.80" height="2.80" fill="#3de83d" />
<circle cx="342.62" cy="67.20" r="1.3" fill="#2030c8"/>
<circle cx="343.88" cy="66.77" r="1.0" fill="#f020b8"/>
<rect x="343.31" y="63.72" width="2.80" height="2.80" fill="#ff5ad2" />
<circle cx="346.43" cy="69.73" r="1.3" fill="#1a2a9a"/>
<circle cx="347.48" cy="64.46" r="1.4" fill="#2030c8"/>
<circle cx="348.94" cy="69.63" r="1.15" fill="#18d818"/>
<circle cx="351.31" cy="62.99" r="1.0" fill="#1a2a9a"/>
<circle cx="351.91" cy="70.46" r="1.3" fill="#1a2a9a"/>
<circle cx="354.34" cy="68.76" r="1.4" fill="#1a2a9a"/>
<circle cx="355.89" cy="65.93" r="1.4" fill="#f020b8"/>
<rect x="356.11" y="67.76" width="2.30" height="2.30" fill="#555" />
<circle cx="357.34" cy="68.37" r="1.15" fill="#8a1a6a"/>
<circle cx="359.10" cy="69.72" r="1.3" fill="#222"/>
<rect x="360.49" y="69.50" width="2.00" height="2.00" fill="#ff5ad2" />
<circle cx="362.20" cy="68.78" r="1.4" fill="#f020b8"/>
<circle cx="363.52" cy="65.63" r="1.4" fill="#2030c8"/>
<circle cx="364.47" cy="70.97" r="1.0" fill="#888"/>
<circle cx="366.27" cy="68.06" r="1.0" fill="#222"/>
<rect x="366.20" y="61.23" width="2.00" height="2.00" fill="#555" />
<circle cx="368.71" cy="67.07" r="1.4" fill="#19a319"/>
<circle cx="370.23" cy="72.03" r="1.4" fill="#18d818"/>
<circle cx="371.61" cy="67.77" r="1.4" fill="#2030c8"/>
<circle cx="373.52" cy="69.93" r="1.3" fill="#18d818"/>
<circle cx="375.30" cy="69.66" r="1.15" fill="#2030c8"/>
<circle cx="376.40" cy="72.16" r="1.15" fill="#19a319"/>
<circle cx="378.05" cy="68.29" r="1.3" fill="#222"/>
<circle cx="379.87" cy="68.73" r="1.3" fill="#888"/>
<rect x="380.03" y="66.44" width="2.30" height="2.30" fill="#3de83d" />
<rect x="380.91" y="67.53" width="2.30" height="2.30" fill="#2a62ea" />
<circle cx="383.86" cy="71.33" r="1.15" fill="#1a2a9a"/>
<circle cx="384.42" cy="69.37" r="1.0" fill="#2030c8"/>
<circle cx="386.66" cy="70.43" r="1.3" fill="#2030c8"/>
<circle cx="387.23" cy="72.70" r="1.3" fill="#8a1a6a"/>
<rect x="388.71" y="68.41" width="2.00" height="2.00" fill="#3de83d" />
<circle cx="390.09" cy="67.88" r="1.4" fill="#19a319"/>
<circle cx="392.07" cy="70.80" r="1.0" fill="#8a1a6a"/>
<circle cx="393.28" cy="68.36" r="1.0" fill="#f020b8"/>
<rect x="394.14" y="72.51" width="2.30" height="2.30" fill="#ff5ad2" />
<rect x="395.10" y="66.22" width="2.00" height="2.00" fill="#555" />
<rect x="396.56" y="70.80" width="2.80" height="2.80" fill="#ff5ad2" />
<rect x="397.75" y="73.56" width="2.30" height="2.30" fill="#ff5ad2" />
<circle cx="401.06" cy="69.52" r="1.15" fill="#222"/>
<circle cx="401.90" cy="71.45" r="1.4" fill="#2030c8"/>
<rect x="402.26" y="68.50" width="2.30" height="2.30" fill="#3de83d" />
<rect x="403.66" y="74.71" width="2.00" height="2.00" fill="#555" />
<rect x="404.64" y="70.40" width="2.80" height="2.80" fill="#555" />
<circle cx="408.10" cy="72.12" r="1.3" fill="#19a319"/>
<rect x="407.27" y="68.57" width="2.30" height="2.30" fill="#2a62ea" />
<rect x="409.46" y="70.13" width="2.30" height="2.30" fill="#3de83d" />
<rect x="409.73" y="72.87" width="2.60" height="2.60" fill="#ff5ad2" />
<circle cx="413.62" cy="66.73" r="1.4" fill="#f020b8"/>
<rect x="413.78" y="67.71" width="2.30" height="2.30" fill="#2a62ea" />
<rect x="414.78" y="65.31" width="2.30" height="2.30" fill="#2a62ea" />
<rect x="416.30" y="70.30" width="2.30" height="2.30" fill="#555" />
<circle cx="418.20" cy="71.33" r="1.3" fill="#8a1a6a"/>
<rect x="418.97" y="67.28" width="2.80" height="2.80" fill="#2a62ea" />
<circle cx="421.93" cy="72.70" r="1.15" fill="#888"/>
<circle cx="422.62" cy="71.48" r="1.4" fill="#888"/>
<circle cx="424.44" cy="68.82" r="1.15" fill="#888"/>
<circle cx="426.03" cy="73.50" r="1.4" fill="#2030c8"/>
<circle cx="427.18" cy="70.65" r="1.3" fill="#19a319"/>
<circle cx="429.18" cy="67.37" r="1.4" fill="#19a319"/>
<circle cx="429.48" cy="70.67" r="1.15" fill="#888"/>
<circle cx="431.30" cy="73.95" r="1.3" fill="#19a319"/>
<rect x="431.92" y="74.80" width="2.60" height="2.60" fill="#555" />
<rect x="432.32" y="69.87" width="2.80" height="2.80" fill="#555" />
<circle cx="435.24" cy="70.33" r="1.15" fill="#888"/>
<circle cx="436.57" cy="74.60" r="1.4" fill="#1a2a9a"/>
<circle cx="438.23" cy="72.19" r="1.3" fill="#19a319"/>
<rect x="437.79" y="72.44" width="2.80" height="2.80" fill="#2a62ea" />
<circle cx="441.20" cy="70.71" r="1.3" fill="#222"/>
<circle cx="442.71" cy="75.22" r="1.0" fill="#888"/>
<circle cx="444.79" cy="74.44" r="1.3" fill="#19a319"/>
<rect x="443.89" y="71.74" width="2.60" height="2.60" fill="#555" />
<circle cx="447.29" cy="75.66" r="1.3" fill="#1a2a9a"/>
<rect x="446.81" y="68.86" width="2.80" height="2.80" fill="#2a62ea" />
<circle cx="450.03" cy="72.67" r="1.15" fill="#888"/>
<circle cx="451.06" cy="78.15" r="1.3" fill="#888"/>
<circle cx="453.19" cy="75.40" r="1.15" fill="#f020b8"/>
<circle cx="453.37" cy="74.76" r="1.4" fill="#888"/>
<rect x="453.56" y="67.59" width="2.30" height="2.30" fill="#2a62ea" />
<rect x="455.01" y="75.54" width="2.30" height="2.30" fill="#ff5ad2" />
<rect x="457.53" y="72.55" width="2.60" height="2.60" fill="#555" />
<rect x="458.66" y="74.52" width="2.30" height="2.30" fill="#2a62ea" />
<rect x="459.74" y="72.11" width="2.00" height="2.00" fill="#2a62ea" />
<circle cx="463.15" cy="72.38" r="1.0" fill="#222"/>
<rect x="461.78" y="71.21" width="2.80" height="2.80" fill="#2a62ea" />
<circle cx="464.91" cy="73.76" r="1.0" fill="#2030c8"/>
<circle cx="466.91" cy="71.63" r="1.4" fill="#f020b8"/>
<circle cx="468.76" cy="75.75" r="1.15" fill="#18d818"/>
<rect x="469.04" y="75.17" width="2.30" height="2.30" fill="#3de83d" />
<rect x="469.78" y="78.76" width="2.00" height="2.00" fill="#3de83d" />
<circle cx="472.80" cy="78.69" r="1.3" fill="#222"/>
<circle cx="473.64" cy="76.74" r="1.0" fill="#222"/>
<circle cx="475.38" cy="77.71" r="1.3" fill="#1a2a9a"/>
<rect x="475.40" y="71.05" width="2.60" height="2.60" fill="#ff5ad2" />
<rect x="476.03" y="75.47" width="2.60" height="2.60" fill="#555" />
<rect x="477.89" y="76.43" width="2.60" height="2.60" fill="#3de83d" />
<circle cx="480.43" cy="75.81" r="1.3" fill="#18d818"/>
<circle cx="482.04" cy="77.23" r="1.3" fill="#2030c8"/>
<circle cx="483.62" cy="75.80" r="1.0" fill="#19a319"/>
<circle cx="484.69" cy="80.33" r="1.15" fill="#888"/>
<circle cx="486.30" cy="74.24" r="1.15" fill="#222"/>
<rect x="486.11" y="76.26" width="2.30" height="2.30" fill="#2a62ea" />
<rect x="488.18" y="76.63" width="2.60" height="2.60" fill="#ff5ad2" />
<circle cx="490.98" cy="74.76" r="1.15" fill="#2030c8"/>
<circle cx="491.78" cy="78.23" r="1.4" fill="#8a1a6a"/>
<rect x="492.67" y="78.41" width="2.30" height="2.30" fill="#2a62ea" />
<rect x="494.48" y="76.59" width="2.00" height="2.00" fill="#2a62ea" />
<circle cx="496.78" cy="81.29" r="1.15" fill="#8a1a6a"/>
<circle cx="497.14" cy="85.30" r="1.0" fill="#222"/>
<circle cx="498.96" cy="87.39" r="1.0" fill="#2030c8"/>
<circle cx="500.73" cy="85.06" r="1.3" fill="#f020b8"/>
<circle cx="501.26" cy="86.97" r="1.0" fill="#888"/>
<circle cx="503.60" cy="88.78" r="1.0" fill="#888"/>
<circle cx="505.27" cy="86.44" r="1.15" fill="#19a319"/>
<circle cx="505.81" cy="92.56" r="1.4" fill="#f020b8"/>
<rect x="318.10" y="59.50" width="2.60" height="2.60" fill="#2a62ea" />
<rect x="321.10" y="60.60" width="2.60" height="2.60" fill="#2a62ea" />
<circle cx="329" cy="60" r="1.35" fill="#18d818"/>
<circle cx="329.6" cy="62.5" r="1.35" fill="#19a319"/>
<circle cx="333.5" cy="65.5" r="1.35" fill="#18d818"/>
<rect x="331.60" y="57.10" width="2.60" height="2.60" fill="#f020b8" />
<circle cx="342.8" cy="63.9" r="1.35" fill="#2030c8"/>
<circle cx="342.3" cy="67.4" r="1.35" fill="#19a319"/>
<rect x="343.20" y="68.90" width="2.60" height="2.60" fill="#ff5ad2" />
<circle cx="320.8" cy="59.6" r="1.35" fill="#2030c8"/>
<circle cx="324.5" cy="62.8" r="1.35" fill="#1a2a9a"/>
<circle cx="316.7" cy="53.1" r="1.4" fill="#1a2a9a"/>
<circle cx="317.4" cy="54.6" r="1" fill="#2030c8"/>
<rect x="505.90" y="87.90" width="2.20" height="2.20" fill="#2a62ea" />
<line x1="316.40" y1="56.40" x2="335.45" y2="56.40" stroke="#6a6a6a" stroke-width="1.15" />
<line x1="335.45" y1="65.60" x2="392.60" y2="65.60" stroke="#6a6a6a" stroke-width="1.15" />
<line x1="392.60" y1="70.00" x2="430.70" y2="70.00" stroke="#6a6a6a" stroke-width="1.15" />
<line x1="430.70" y1="72.50" x2="487.85" y2="72.50" stroke="#6a6a6a" stroke-width="1.15" />
<line x1="487.85" y1="75.00" x2="506.90" y2="75.00" stroke="#6a6a6a" stroke-width="1.15" />
<line x1="511.70" y1="41.65" x2="515.70" y2="41.65" stroke="#5a5a5a" stroke-width="0.85" /><line x1="511.70" y1="43.00" x2="515.70" y2="43.00" stroke="#5a5a5a" stroke-width="0.85" /><line x1="511.70" y1="44.35" x2="515.70" y2="44.35" stroke="#5a5a5a" stroke-width="0.85" />
<line x1="294.20" y1="172.40" x2="299.00" y2="172.40" stroke="#6cbcf2" stroke-width="0.8" /><circle cx="296.6" cy="172.4" r="1.0" fill="#6cbcf2"/><text x="302.60" y="173.77" font-size="3.81" fill="#444" font-weight="bold" text-anchor="start" textLength="13.40" lengthAdjust="spacingAndGlyphs" >Target line</text>
<line x1="327.30" y1="172.40" x2="332.10" y2="172.40" stroke="#333" stroke-width="0.8" /><circle cx="329.7" cy="172.4" r="1.0" fill="#333"/><text x="336.00" y="173.77" font-size="3.81" fill="#444" font-weight="bold" text-anchor="start" textLength="17.70" lengthAdjust="spacingAndGlyphs" >90th-centile</text>
<rect x="360.00" y="170.90" width="3.00" height="3.00" fill="#f5a623" /><text x="368.70" y="173.77" font-size="3.81" fill="#444" font-weight="bold" text-anchor="start" textLength="10.50" lengthAdjust="spacingAndGlyphs" >Box Plot</text>
<circle cx="389" cy="172.4" r="1.1" fill="#222"/><text x="394.50" y="173.77" font-size="3.81" fill="#444" font-weight="bold" text-anchor="start" textLength="4.50" lengthAdjust="spacingAndGlyphs" >Jan</text>
<circle cx="407" cy="172.4" r="0.7" fill="#aaa"/><text x="413.00" y="173.77" font-size="3.81" fill="#444" font-weight="bold" text-anchor="start" textLength="5.50" lengthAdjust="spacingAndGlyphs" >Feb</text>
<rect x="423.45" y="171.25" width="2.30" height="2.30" fill="#555" /><text x="431.50" y="173.77" font-size="3.81" fill="#444" font-weight="bold" text-anchor="start" textLength="6.00" lengthAdjust="spacingAndGlyphs" >Mar</text>
<circle cx="443.6" cy="172.4" r="1.1" fill="#19a319"/><text x="449.50" y="173.77" font-size="3.81" fill="#444" font-weight="bold" text-anchor="start" textLength="6.00" lengthAdjust="spacingAndGlyphs" >Apr</text>
<circle cx="462" cy="172.4" r="1.1" fill="#18d818"/><text x="468.00" y="173.77" font-size="3.81" fill="#444" font-weight="bold" text-anchor="start" textLength="6.50" lengthAdjust="spacingAndGlyphs" >May</text>
<rect x="478.80" y="170.90" width="3.00" height="3.00" fill="#3de83d" /><text x="487.00" y="173.77" font-size="3.81" fill="#444" font-weight="bold" text-anchor="start" textLength="5.30" lengthAdjust="spacingAndGlyphs" >Jun</text>
<circle cx="499.2" cy="172.4" r="1.1" fill="#1a2a9a"/><text x="505.00" y="173.77" font-size="3.81" fill="#444" font-weight="bold" text-anchor="start" textLength="4.00" lengthAdjust="spacingAndGlyphs" >Jul</text>
<circle cx="297" cy="178.4" r="1.1" fill="#2030c8"/><text x="303.50" y="179.77" font-size="3.81" fill="#444" font-weight="bold" text-anchor="start" textLength="5.30" lengthAdjust="spacingAndGlyphs" >Aug</text>
<rect x="312.85" y="177.25" width="2.30" height="2.30" fill="#2a62ea" /><text x="320.00" y="179.77" font-size="3.81" fill="#444" font-weight="bold" text-anchor="start" textLength="5.40" lengthAdjust="spacingAndGlyphs" >Sep</text>
<circle cx="331.5" cy="178.4" r="0.7" fill="#8a1a6a"/><text x="337.50" y="179.77" font-size="3.81" fill="#444" font-weight="bold" text-anchor="start" textLength="5.10" lengthAdjust="spacingAndGlyphs" >Oct</text>
<rect x="352.55" y="177.25" width="2.30" height="2.30" fill="#f020b8" /><text x="360.00" y="179.77" font-size="3.81" fill="#444" font-weight="bold" text-anchor="start" textLength="5.20" lengthAdjust="spacingAndGlyphs" >Nov</text>
<rect x="371.45" y="177.25" width="2.30" height="2.30" fill="#ff5ad2" /><text x="378.60" y="179.77" font-size="3.81" fill="#444" font-weight="bold" text-anchor="start" textLength="5.20" lengthAdjust="spacingAndGlyphs" >Dec</text>
<text x="495.50" y="186.52" font-size="3.68" fill="#d0d0d0" font-weight="normal" text-anchor="start" textLength="21.00" lengthAdjust="spacingAndGlyphs" >Highcharts.com</text>
</g>
<g id="fig-c">
<rect x="4.90" y="228.80" width="264.10" height="208.20" fill="#d9ebf6" />
<rect x="5.20" y="229.00" width="263.50" height="207.70" fill="#1f9fe0" />
<line x1="5.20" y1="229.25" x2="268.70" y2="229.25" stroke="#1877ad" stroke-width="0.5" />
<text x="104.40" y="239.84" font-size="6.22" fill="#fff" font-weight="bold" text-anchor="start" textLength="48.70" lengthAdjust="spacingAndGlyphs" >Namgang E / 2019A80</text>
<polyline points="259.60,236.20 262.20,238.80" fill="none" stroke="#fff" stroke-width="0.9" /><polyline points="262.20,236.20 259.60,238.80" fill="none" stroke="#fff" stroke-width="0.9" />
<rect x="6.40" y="243.40" width="261.10" height="192.10" fill="#e8f1f7" />
<rect x="7.70" y="245.50" width="241.70" height="170.90" fill="#fff" />
<rect x="7.70" y="245.50" width="241.70" height="13.60" fill="#1f9fe0" />
<text x="15.80" y="255.64" font-size="6.22" fill="#fff" font-weight="bold" text-anchor="start" textLength="8.40" lengthAdjust="spacingAndGlyphs" >FDC</text>
<text x="55.50" y="255.84" font-size="6.22" fill="#fff" font-weight="bold" text-anchor="start" textLength="8.30" lengthAdjust="spacingAndGlyphs" >LDC</text>
<rect x="99.60" y="248.40" width="42.70" height="10.70" fill="#cfe6f5" />
<rect x="100.40" y="249.20" width="41.10" height="9.90" fill="#fff" />
<text x="104.50" y="256.10" font-size="5.84" fill="#93b4ca" font-weight="bold" text-anchor="start" textLength="10.50" lengthAdjust="spacingAndGlyphs" >QLRC</text>
<rect x="252.80" y="245.50" width="13.20" height="170.70" fill="#1f9fe0" />
<text x="258.30" y="254.33" font-size="5.08" fill="#fff" font-weight="bold" text-anchor="start" textLength="1.80" lengthAdjust="spacingAndGlyphs" >«</text>
<text transform="translate(257.7,260) rotate(90)" font-size="5.5" fill="#fff" font-weight="bold" textLength="23.5" lengthAdjust="spacingAndGlyphs">Namgang E</text>
<rect x="250.40" y="328.00" width="1.40" height="5.00" fill="#9bbbd0" />
<rect x="7.80" y="419.90" width="258.20" height="13.80" fill="#1f9fe0" />
<text x="13.70" y="429.23" font-size="6.48" fill="#fff" font-weight="bold" text-anchor="start" textLength="54.00" lengthAdjust="spacingAndGlyphs" >Pollutant analysis result</text>
<path d="M257.2 428.2 l1.5 -1.9 l1.5 1.9z" fill="#fff"/>
<rect x="130.00" y="417.00" width="14.00" height="2.20" fill="#d5e6f2" />
<path d="M135.8 418.8 l1 -1.2 l1 1.2z" fill="#567"/>
<rect x="32.00" y="262.80" width="212.80" height="7.01" fill="#f9f9f9" /><rect x="32.00" y="262.80" width="212.80" height="4.07" fill="#f9f9f9" /><rect x="32.00" y="274.10" width="212.80" height="7.01" fill="#f9f9f9" /><rect x="32.00" y="274.10" width="212.80" height="4.07" fill="#f9f9f9" /><rect x="32.00" y="285.40" width="212.80" height="7.01" fill="#f9f9f9" /><rect x="32.00" y="285.40" width="212.80" height="4.07" fill="#f9f9f9" /><rect x="32.00" y="296.70" width="212.80" height="7.01" fill="#f9f9f9" /><rect x="32.00" y="296.70" width="212.80" height="4.07" fill="#f9f9f9" /><rect x="32.00" y="308.00" width="212.80" height="7.01" fill="#f9f9f9" /><rect x="32.00" y="308.00" width="212.80" height="4.07" fill="#f9f9f9" /><rect x="32.00" y="319.30" width="212.80" height="7.01" fill="#f9f9f9" /><rect x="32.00" y="319.30" width="212.80" height="4.07" fill="#f9f9f9" /><rect x="32.00" y="330.60" width="212.80" height="7.01" fill="#f9f9f9" /><rect x="32.00" y="330.60" width="212.80" height="4.07" fill="#f9f9f9" /><rect x="32.00" y="341.90" width="212.80" height="7.01" fill="#f9f9f9" /><rect x="32.00" y="341.90" width="212.80" height="4.07" fill="#f9f9f9" /><rect x="32.00" y="353.20" width="212.80" height="7.01" fill="#f9f9f9" /><rect x="32.00" y="353.20" width="212.80" height="4.07" fill="#f9f9f9" /><rect x="32.00" y="364.50" width="212.80" height="7.01" fill="#f9f9f9" /><rect x="32.00" y="364.50" width="212.80" height="4.07" fill="#f9f9f9" /><line x1="32.00" y1="270.70" x2="244.80" y2="270.70" stroke="#e8e8e8" stroke-width="0.5" /><line x1="32.00" y1="268.71" x2="244.80" y2="268.71" stroke="#e8e8e8" stroke-width="0.5" /><line x1="32.00" y1="267.30" x2="244.80" y2="267.30" stroke="#e8e8e8" stroke-width="0.5" /><line x1="32.00" y1="266.20" x2="244.80" y2="266.20" stroke="#e8e8e8" stroke-width="0.5" /><line x1="32.00" y1="265.31" x2="244.80" y2="265.31" stroke="#e8e8e8" stroke-width="0.5" /><line x1="32.00" y1="264.55" x2="244.80" y2="264.55" stroke="#e8e8e8" stroke-width="0.5" /><line x1="32.00" y1="263.90" x2="244.80" y2="263.90" stroke="#e8e8e8" stroke-width="0.5" /><line x1="32.00" y1="263.32" x2="244.80" y2="263.32" stroke="#e8e8e8" stroke-width="0.5" /><line x1="32.00" y1="282.00" x2="244.80" y2="282.00" stroke="#e8e8e8" stroke-width="0.5" /><line x1="32.00" y1="280.01" x2="244.80" y2="280.01" stroke="#e8e8e8" stroke-width="0.5" /><line x1="32.00" y1="278.60" x2="244.80" y2="278.60" stroke="#e8e8e8" stroke-width="0.5" /><line x1="32.00" y1="277.50" x2="244.80" y2="277.50" stroke="#e8e8e8" stroke-width="0.5" /><line x1="32.00" y1="276.61" x2="244.80" y2="276.61" stroke="#e8e8e8" stroke-width="0.5" /><line x1="32.00" y1="275.85" x2="244.80" y2="275.85" stroke="#e8e8e8" stroke-width="0.5" /><line x1="32.00" y1="275.20" x2="244.80" y2="275.20" stroke="#e8e8e8" stroke-width="0.5" /><line x1="32.00" y1="274.62" x2="244.80" y2="274.62" stroke="#e8e8e8" stroke-width="0.5" /><line x1="32.00" y1="293.30" x2="244.80" y2="293.30" stroke="#e8e8e8" stroke-width="0.5" /><line x1="32.00" y1="291.31" x2="244.80" y2="291.31" stroke="#e8e8e8" stroke-width="0.5" /><line x1="32.00" y1="289.90" x2="244.80" y2="289.90" stroke="#e8e8e8" stroke-width="0.5" /><line x1="32.00" y1="288.80" x2="244.80" y2="288.80" stroke="#e8e8e8" stroke-width="0.5" /><line x1="32.00" y1="287.91" x2="244.80" y2="287.91" stroke="#e8e8e8" stroke-width="0.5" /><line x1="32.00" y1="287.15" x2="244.80" y2="287.15" stroke="#e8e8e8" stroke-width="0.5" /><line x1="32.00" y1="286.50" x2="244.80" y2="286.50" stroke="#e8e8e8" stroke-width="0.5" /><line x1="32.00" y1="285.92" x2="244.80" y2="285.92" stroke="#e8e8e8" stroke-width="0.5" /><line x1="32.00" y1="304.60" x2="244.80" y2="304.60" stroke="#e8e8e8" stroke-width="0.5" /><line x1="32.00" y1="302.61" x2="244.80" y2="302.61" stroke="#e8e8e8" stroke-width="0.5" /><line x1="32.00" y1="301.20" x2="244.80" y2="301.20" stroke="#e8e8e8" stroke-width="0.5" /><line x1="32.00" y1="300.10" x2="244.80" y2="300.10" stroke="#e8e8e8" stroke-width="0.5" /><line x1="32.00" y1="299.21" x2="244.80" y2="299.21" stroke="#e8e8e8" stroke-width="0.5" /><line x1="32.00" y1="298.45" x2="244.80" y2="298.45" stroke="#e8e8e8" stroke-width="0.5" /><line x1="32.00" y1="297.80" x2="244.80" y2="297.80" stroke="#e8e8e8" stroke-width="0.5" /><line x1="32.00" y1="297.22" x2="244.80" y2="297.22" stroke="#e8e8e8" stroke-width="0.5" /><line x1="32.00" y1="315.90" x2="244.80" y2="315.90" stroke="#e8e8e8" stroke-width="0.5" /><line x1="32.00" y1="313.91" x2="244.80" y2="313.91" stroke="#e8e8e8" stroke-width="0.5" /><line x1="32.00" y1="312.50" x2="244.80" y2="312.50" stroke="#e8e8e8" stroke-width="0.5" /><line x1="32.00" y1="311.40" x2="244.80" y2="311.40" stroke="#e8e8e8" stroke-width="0.5" /><line x1="32.00" y1="310.51" x2="244.80" y2="310.51" stroke="#e8e8e8" stroke-width="0.5" /><line x1="32.00" y1="309.75" x2="244.80" y2="309.75" stroke="#e8e8e8" stroke-width="0.5" /><line x1="32.00" y1="309.10" x2="244.80" y2="309.10" stroke="#e8e8e8" stroke-width="0.5" /><line x1="32.00" y1="308.52" x2="244.80" y2="308.52" stroke="#e8e8e8" stroke-width="0.5" /><line x1="32.00" y1="327.20" x2="244.80" y2="327.20" stroke="#e8e8e8" stroke-width="0.5" /><line x1="32.00" y1="325.21" x2="244.80" y2="325.21" stroke="#e8e8e8" stroke-width="0.5" /><line x1="32.00" y1="323.80" x2="244.80" y2="323.80" stroke="#e8e8e8" stroke-width="0.5" /><line x1="32.00" y1="322.70" x2="244.80" y2="322.70" stroke="#e8e8e8" stroke-width="0.5" /><line x1="32.00" y1="321.81" x2="244.80" y2="321.81" stroke="#e8e8e8" stroke-width="0.5" /><line x1="32.00" y1="321.05" x2="244.80" y2="321.05" stroke="#e8e8e8" stroke-width="0.5" /><line x1="32.00" y1="320.40" x2="244.80" y2="320.40" stroke="#e8e8e8" stroke-width="0.5" /><line x1="32.00" y1="319.82" x2="244.80" y2="319.82" stroke="#e8e8e8" stroke-width="0.5" /><line x1="32.00" y1="338.50" x2="244.80" y2="338.50" stroke="#e8e8e8" stroke-width="0.5" /><line x1="32.00" y1="336.51" x2="244.80" y2="336.51" stroke="#e8e8e8" stroke-width="0.5" /><line x1="32.00" y1="335.10" x2="244.80" y2="335.10" stroke="#e8e8e8" stroke-width="0.5" /><line x1="32.00" y1="334.00" x2="244.80" y2="334.00" stroke="#e8e8e8" stroke-width="0.5" /><line x1="32.00" y1="333.11" x2="244.80" y2="333.11" stroke="#e8e8e8" stroke-width="0.5" /><line x1="32.00" y1="332.35" x2="244.80" y2="332.35" stroke="#e8e8e8" stroke-width="0.5" /><line x1="32.00" y1="331.70" x2="244.80" y2="331.70" stroke="#e8e8e8" stroke-width="0.5" /><line x1="32.00" y1="331.12" x2="244.80" y2="331.12" stroke="#e8e8e8" stroke-width="0.5" /><line x1="32.00" y1="349.80" x2="244.80" y2="349.80" stroke="#e8e8e8" stroke-width="0.5" /><line x1="32.00" y1="347.81" x2="244.80" y2="347.81" stroke="#e8e8e8" stroke-width="0.5" /><line x1="32.00" y1="346.40" x2="244.80" y2="346.40" stroke="#e8e8e8" stroke-width="0.5" /><line x1="32.00" y1="345.30" x2="244.80" y2="345.30" stroke="#e8e8e8" stroke-width="0.5" /><line x1="32.00" y1="344.41" x2="244.80" y2="344.41" stroke="#e8e8e8" stroke-width="0.5" /><line x1="32.00" y1="343.65" x2="244.80" y2="343.65" stroke="#e8e8e8" stroke-width="0.5" /><line x1="32.00" y1="343.00" x2="244.80" y2="343.00" stroke="#e8e8e8" stroke-width="0.5" /><line x1="32.00" y1="342.42" x2="244.80" y2="342.42" stroke="#e8e8e8" stroke-width="0.5" /><line x1="32.00" y1="361.10" x2="244.80" y2="361.10" stroke="#e8e8e8" stroke-width="0.5" /><line x1="32.00" y1="359.11" x2="244.80" y2="359.11" stroke="#e8e8e8" stroke-width="0.5" /><line x1="32.00" y1="357.70" x2="244.80" y2="357.70" stroke="#e8e8e8" stroke-width="0.5" /><line x1="32.00" y1="356.60" x2="244.80" y2="356.60" stroke="#e8e8e8" stroke-width="0.5" /><line x1="32.00" y1="355.71" x2="244.80" y2="355.71" stroke="#e8e8e8" stroke-width="0.5" /><line x1="32.00" y1="354.95" x2="244.80" y2="354.95" stroke="#e8e8e8" stroke-width="0.5" /><line x1="32.00" y1="354.30" x2="244.80" y2="354.30" stroke="#e8e8e8" stroke-width="0.5" /><line x1="32.00" y1="353.72" x2="244.80" y2="353.72" stroke="#e8e8e8" stroke-width="0.5" /><line x1="32.00" y1="372.40" x2="244.80" y2="372.40" stroke="#e8e8e8" stroke-width="0.5" /><line x1="32.00" y1="370.41" x2="244.80" y2="370.41" stroke="#e8e8e8" stroke-width="0.5" /><line x1="32.00" y1="369.00" x2="244.80" y2="369.00" stroke="#e8e8e8" stroke-width="0.5" /><line x1="32.00" y1="367.90" x2="244.80" y2="367.90" stroke="#e8e8e8" stroke-width="0.5" /><line x1="32.00" y1="367.01" x2="244.80" y2="367.01" stroke="#e8e8e8" stroke-width="0.5" /><line x1="32.00" y1="366.25" x2="244.80" y2="366.25" stroke="#e8e8e8" stroke-width="0.5" /><line x1="32.00" y1="365.60" x2="244.80" y2="365.60" stroke="#e8e8e8" stroke-width="0.5" /><line x1="32.00" y1="365.02" x2="244.80" y2="365.02" stroke="#e8e8e8" stroke-width="0.5" /><line x1="32.00" y1="262.80" x2="244.80" y2="262.80" stroke="#dcdcdc" stroke-width="0.6" /><line x1="32.00" y1="274.10" x2="244.80" y2="274.10" stroke="#dcdcdc" stroke-width="0.6" /><line x1="32.00" y1="285.40" x2="244.80" y2="285.40" stroke="#dcdcdc" stroke-width="0.6" /><line x1="32.00" y1="296.70" x2="244.80" y2="296.70" stroke="#dcdcdc" stroke-width="0.6" /><line x1="32.00" y1="308.00" x2="244.80" y2="308.00" stroke="#dcdcdc" stroke-width="0.6" /><line x1="32.00" y1="319.30" x2="244.80" y2="319.30" stroke="#dcdcdc" stroke-width="0.6" /><line x1="32.00" y1="330.60" x2="244.80" y2="330.60" stroke="#dcdcdc" stroke-width="0.6" /><line x1="32.00" y1="341.90" x2="244.80" y2="341.90" stroke="#dcdcdc" stroke-width="0.6" /><line x1="32.00" y1="353.20" x2="244.80" y2="353.20" stroke="#dcdcdc" stroke-width="0.6" /><line x1="32.00" y1="364.50" x2="244.80" y2="364.50" stroke="#dcdcdc" stroke-width="0.6" /><line x1="32.00" y1="375.80" x2="244.80" y2="375.80" stroke="#dcdcdc" stroke-width="0.6" />
<line x1="41.15" y1="262.80" x2="41.15" y2="375.80" stroke="#e7e7e7" stroke-width="0.5" />
<line x1="46.50" y1="262.80" x2="46.50" y2="375.80" stroke="#e7e7e7" stroke-width="0.5" />
<line x1="50.30" y1="262.80" x2="50.30" y2="375.80" stroke="#e7e7e7" stroke-width="0.5" />
<line x1="53.25" y1="262.80" x2="53.25" y2="375.80" stroke="#e7e7e7" stroke-width="0.5" />
<line x1="55.66" y1="262.80" x2="55.66" y2="375.80" stroke="#e7e7e7" stroke-width="0.5" />
<line x1="57.69" y1="262.80" x2="57.69" y2="375.80" stroke="#e7e7e7" stroke-width="0.5" />
<line x1="59.45" y1="262.80" x2="59.45" y2="375.80" stroke="#e7e7e7" stroke-width="0.5" />
<line x1="61.01" y1="262.80" x2="61.01" y2="375.80" stroke="#e7e7e7" stroke-width="0.5" />
<line x1="71.55" y1="262.80" x2="71.55" y2="375.80" stroke="#e7e7e7" stroke-width="0.5" />
<line x1="76.90" y1="262.80" x2="76.90" y2="375.80" stroke="#e7e7e7" stroke-width="0.5" />
<line x1="80.70" y1="262.80" x2="80.70" y2="375.80" stroke="#e7e7e7" stroke-width="0.5" />
<line x1="83.65" y1="262.80" x2="83.65" y2="375.80" stroke="#e7e7e7" stroke-width="0.5" />
<line x1="86.06" y1="262.80" x2="86.06" y2="375.80" stroke="#e7e7e7" stroke-width="0.5" />
<line x1="88.09" y1="262.80" x2="88.09" y2="375.80" stroke="#e7e7e7" stroke-width="0.5" />
<line x1="89.85" y1="262.80" x2="89.85" y2="375.80" stroke="#e7e7e7" stroke-width="0.5" />
<line x1="91.41" y1="262.80" x2="91.41" y2="375.80" stroke="#e7e7e7" stroke-width="0.5" />
<line x1="101.95" y1="262.80" x2="101.95" y2="375.80" stroke="#e7e7e7" stroke-width="0.5" />
<line x1="107.30" y1="262.80" x2="107.30" y2="375.80" stroke="#e7e7e7" stroke-width="0.5" />
<line x1="111.10" y1="262.80" x2="111.10" y2="375.80" stroke="#e7e7e7" stroke-width="0.5" />
<line x1="114.05" y1="262.80" x2="114.05" y2="375.80" stroke="#e7e7e7" stroke-width="0.5" />
<line x1="116.46" y1="262.80" x2="116.46" y2="375.80" stroke="#e7e7e7" stroke-width="0.5" />
<line x1="118.49" y1="262.80" x2="118.49" y2="375.80" stroke="#e7e7e7" stroke-width="0.5" />
<line x1="120.25" y1="262.80" x2="120.25" y2="375.80" stroke="#e7e7e7" stroke-width="0.5" />
<line x1="121.81" y1="262.80" x2="121.81" y2="375.80" stroke="#e7e7e7" stroke-width="0.5" />
<line x1="132.35" y1="262.80" x2="132.35" y2="375.80" stroke="#e7e7e7" stroke-width="0.5" />
<line x1="137.70" y1="262.80" x2="137.70" y2="375.80" stroke="#e7e7e7" stroke-width="0.5" />
<line x1="141.50" y1="262.80" x2="141.50" y2="375.80" stroke="#e7e7e7" stroke-width="0.5" />
<line x1="144.45" y1="262.80" x2="144.45" y2="375.80" stroke="#e7e7e7" stroke-width="0.5" />
<line x1="146.86" y1="262.80" x2="146.86" y2="375.80" stroke="#e7e7e7" stroke-width="0.5" />
<line x1="148.89" y1="262.80" x2="148.89" y2="375.80" stroke="#e7e7e7" stroke-width="0.5" />
<line x1="150.65" y1="262.80" x2="150.65" y2="375.80" stroke="#e7e7e7" stroke-width="0.5" />
<line x1="152.21" y1="262.80" x2="152.21" y2="375.80" stroke="#e7e7e7" stroke-width="0.5" />
<line x1="162.75" y1="262.80" x2="162.75" y2="375.80" stroke="#e7e7e7" stroke-width="0.5" />
<line x1="168.10" y1="262.80" x2="168.10" y2="375.80" stroke="#e7e7e7" stroke-width="0.5" />
<line x1="171.90" y1="262.80" x2="171.90" y2="375.80" stroke="#e7e7e7" stroke-width="0.5" />
<line x1="174.85" y1="262.80" x2="174.85" y2="375.80" stroke="#e7e7e7" stroke-width="0.5" />
<line x1="177.26" y1="262.80" x2="177.26" y2="375.80" stroke="#e7e7e7" stroke-width="0.5" />
<line x1="179.29" y1="262.80" x2="179.29" y2="375.80" stroke="#e7e7e7" stroke-width="0.5" />
<line x1="181.05" y1="262.80" x2="181.05" y2="375.80" stroke="#e7e7e7" stroke-width="0.5" />
<line x1="182.61" y1="262.80" x2="182.61" y2="375.80" stroke="#e7e7e7" stroke-width="0.5" />
<line x1="193.15" y1="262.80" x2="193.15" y2="375.80" stroke="#e7e7e7" stroke-width="0.5" />
<line x1="198.50" y1="262.80" x2="198.50" y2="375.80" stroke="#e7e7e7" stroke-width="0.5" />
<line x1="202.30" y1="262.80" x2="202.30" y2="375.80" stroke="#e7e7e7" stroke-width="0.5" />
<line x1="205.25" y1="262.80" x2="205.25" y2="375.80" stroke="#e7e7e7" stroke-width="0.5" />
<line x1="207.66" y1="262.80" x2="207.66" y2="375.80" stroke="#e7e7e7" stroke-width="0.5" />
<line x1="209.69" y1="262.80" x2="209.69" y2="375.80" stroke="#e7e7e7" stroke-width="0.5" />
<line x1="211.45" y1="262.80" x2="211.45" y2="375.80" stroke="#e7e7e7" stroke-width="0.5" />
<line x1="213.01" y1="262.80" x2="213.01" y2="375.80" stroke="#e7e7e7" stroke-width="0.5" />
<line x1="223.55" y1="262.80" x2="223.55" y2="375.80" stroke="#e7e7e7" stroke-width="0.5" />
<line x1="228.90" y1="262.80" x2="228.90" y2="375.80" stroke="#e7e7e7" stroke-width="0.5" />
<line x1="232.70" y1="262.80" x2="232.70" y2="375.80" stroke="#e7e7e7" stroke-width="0.5" />
<line x1="235.65" y1="262.80" x2="235.65" y2="375.80" stroke="#e7e7e7" stroke-width="0.5" />
<line x1="238.06" y1="262.80" x2="238.06" y2="375.80" stroke="#e7e7e7" stroke-width="0.5" />
<line x1="240.09" y1="262.80" x2="240.09" y2="375.80" stroke="#e7e7e7" stroke-width="0.5" />
<line x1="241.85" y1="262.80" x2="241.85" y2="375.80" stroke="#e7e7e7" stroke-width="0.5" />
<line x1="243.41" y1="262.80" x2="243.41" y2="375.80" stroke="#e7e7e7" stroke-width="0.5" />
<line x1="32.00" y1="262.80" x2="32.00" y2="375.80" stroke="#dddddd" stroke-width="0.6" />
<line x1="62.40" y1="262.80" x2="62.40" y2="375.80" stroke="#dddddd" stroke-width="0.6" />
<line x1="92.80" y1="262.80" x2="92.80" y2="375.80" stroke="#dddddd" stroke-width="0.6" />
<line x1="123.20" y1="262.80" x2="123.20" y2="375.80" stroke="#dddddd" stroke-width="0.6" />
<line x1="153.60" y1="262.80" x2="153.60" y2="375.80" stroke="#dddddd" stroke-width="0.6" />
<line x1="184.00" y1="262.80" x2="184.00" y2="375.80" stroke="#dddddd" stroke-width="0.6" />
<line x1="214.40" y1="262.80" x2="214.40" y2="375.80" stroke="#dddddd" stroke-width="0.6" />
<line x1="244.80" y1="262.80" x2="244.80" y2="375.80" stroke="#dddddd" stroke-width="0.6" />
<line x1="32.00" y1="375.80" x2="244.80" y2="375.80" stroke="#c3d3ea" stroke-width="0.7" />
<text x="19.86" y="264.26" font-size="4.06" fill="#6e6e6e" font-weight="normal" text-anchor="start" textLength="8.74" lengthAdjust="spacingAndGlyphs" >100M</text>
<text x="23.74" y="286.86" font-size="4.06" fill="#6e6e6e" font-weight="normal" text-anchor="start" textLength="4.86" lengthAdjust="spacingAndGlyphs" >1M</text>
<text x="22.96" y="309.46" font-size="4.06" fill="#6e6e6e" font-weight="normal" text-anchor="start" textLength="5.64" lengthAdjust="spacingAndGlyphs" >10k</text>
<text x="22.77" y="332.06" font-size="4.06" fill="#6e6e6e" font-weight="normal" text-anchor="start" textLength="5.83" lengthAdjust="spacingAndGlyphs" >100</text>
<text x="26.66" y="354.66" font-size="4.06" fill="#6e6e6e" font-weight="normal" text-anchor="start" textLength="1.94" lengthAdjust="spacingAndGlyphs" >1</text>
<text x="21.80" y="377.26" font-size="4.06" fill="#6e6e6e" font-weight="normal" text-anchor="start" textLength="6.80" lengthAdjust="spacingAndGlyphs" >0.01</text>
<text x="29.57" y="382.26" font-size="4.06" fill="#6e6e6e" font-weight="normal" text-anchor="start" textLength="4.86" lengthAdjust="spacingAndGlyphs" >0.1</text>
<line x1="32.00" y1="375.80" x2="32.00" y2="377.30" stroke="#c3d3ea" stroke-width="0.5" />
<text x="61.43" y="382.26" font-size="4.06" fill="#6e6e6e" font-weight="normal" text-anchor="start" textLength="1.94" lengthAdjust="spacingAndGlyphs" >1</text>
<line x1="62.40" y1="375.80" x2="62.40" y2="377.30" stroke="#c3d3ea" stroke-width="0.5" />
<text x="90.86" y="382.26" font-size="4.06" fill="#6e6e6e" font-weight="normal" text-anchor="start" textLength="3.89" lengthAdjust="spacingAndGlyphs" >10</text>
<line x1="92.80" y1="375.80" x2="92.80" y2="377.30" stroke="#c3d3ea" stroke-width="0.5" />
<text x="120.28" y="382.26" font-size="4.06" fill="#6e6e6e" font-weight="normal" text-anchor="start" textLength="5.83" lengthAdjust="spacingAndGlyphs" >100</text>
<line x1="123.20" y1="375.80" x2="123.20" y2="377.30" stroke="#c3d3ea" stroke-width="0.5" />
<text x="151.75" y="382.26" font-size="4.06" fill="#6e6e6e" font-weight="normal" text-anchor="start" textLength="3.69" lengthAdjust="spacingAndGlyphs" >1k</text>
<line x1="153.60" y1="375.80" x2="153.60" y2="377.30" stroke="#c3d3ea" stroke-width="0.5" />
<text x="181.18" y="382.26" font-size="4.06" fill="#6e6e6e" font-weight="normal" text-anchor="start" textLength="5.64" lengthAdjust="spacingAndGlyphs" >10k</text>
<line x1="184.00" y1="375.80" x2="184.00" y2="377.30" stroke="#c3d3ea" stroke-width="0.5" />
<text x="210.61" y="382.26" font-size="4.06" fill="#6e6e6e" font-weight="normal" text-anchor="start" textLength="7.58" lengthAdjust="spacingAndGlyphs" >100k</text>
<line x1="214.40" y1="375.80" x2="214.40" y2="377.30" stroke="#c3d3ea" stroke-width="0.5" />
<text x="240.44" y="382.26" font-size="4.06" fill="#6e6e6e" font-weight="normal" text-anchor="start" textLength="4.86" lengthAdjust="spacingAndGlyphs" >1M</text>
<line x1="244.80" y1="375.80" x2="244.80" y2="377.30" stroke="#c3d3ea" stroke-width="0.5" />
<text x="125.70" y="390.39" font-size="4.7" fill="#555" font-weight="bold" text-anchor="start" textLength="18.80" lengthAdjust="spacingAndGlyphs" >Flow (CMS)</text>
<text transform="translate(17.4,332.4) rotate(-90)" font-size="4.5" fill="#555" font-weight="bold" textLength="26" lengthAdjust="spacingAndGlyphs">Load (kg/day)</text>
<line x1="74.00" y1="322.00" x2="148.00" y2="297.00" stroke="#f05050" stroke-width="0.9" stroke-dasharray="2.2 0.9"/>
<line x1="74.00" y1="322.00" x2="149.40" y2="294.00" stroke="#2e2e2e" stroke-width="1.15" />
<line x1="238.80" y1="265.05" x2="242.80" y2="265.05" stroke="#5a5a5a" stroke-width="0.85" /><line x1="238.80" y1="266.40" x2="242.80" y2="266.40" stroke="#5a5a5a" stroke-width="0.85" /><line x1="238.80" y1="267.75" x2="242.80" y2="267.75" stroke="#5a5a5a" stroke-width="0.85" />
<circle cx="75.9" cy="399" r="0.7" fill="#bbb"/>
<text x="81.00" y="400.37" font-size="3.81" fill="#555" font-weight="bold" text-anchor="start" textLength="13.70" lengthAdjust="spacingAndGlyphs" >Measured</text>
<line x1="105.00" y1="399.00" x2="109.20" y2="399.00" stroke="#f05050" stroke-width="0.8" />
<text x="112.60" y="400.37" font-size="3.81" fill="#555" font-weight="bold" text-anchor="start" textLength="19.40" lengthAdjust="spacingAndGlyphs" >Measured QLRC</text>
<line x1="146.40" y1="399.00" x2="150.60" y2="399.00" stroke="#222" stroke-width="0.9" />
<text x="154.60" y="400.37" font-size="3.81" fill="#555" font-weight="bold" text-anchor="start" textLength="18.60" lengthAdjust="spacingAndGlyphs" >Standard QLRC</text>
<text x="221.50" y="407.32" font-size="3.68" fill="#d0d0d0" font-weight="normal" text-anchor="start" textLength="21.90" lengthAdjust="spacingAndGlyphs" >Highcharts.com</text>
</g>
<g id="fig-d">
<rect x="353.80" y="230.20" width="116.40" height="144.40" fill="#eef3f6" />
<rect x="354.90" y="230.90" width="114.30" height="142.30" fill="#fff" />
<line x1="471.00" y1="229.00" x2="471.00" y2="375.00" stroke="#2a6aa0" stroke-width="1.1" />
<rect x="354.90" y="230.90" width="114.30" height="11.10" fill="#1f9fe0" />
<text x="359.70" y="238.59" font-size="6.35" fill="#fff" font-weight="bold" text-anchor="start" textLength="34.90" lengthAdjust="spacingAndGlyphs" >Namgang E Table</text>
<text x="461.30" y="238.03" font-size="5.08" fill="#fff" font-weight="bold" text-anchor="start" textLength="1.80" lengthAdjust="spacingAndGlyphs" >»</text>
<text x="359.00" y="249.76" font-size="4.32" fill="#999" font-weight="bold" text-anchor="start" textLength="10.80" lengthAdjust="spacingAndGlyphs" >Search</text>
<rect x="374.50" y="244.40" width="59.10" height="7.80" fill="#fff" stroke="#dedede" stroke-width="0.5"/>
<rect x="438.00" y="244.90" width="7.60" height="7.10" fill="#f1f1f1" stroke="#dcdcdc" stroke-width="0.4"/>
<text x="441.00" y="249.67" font-size="3.81" fill="#999" font-weight="normal" text-anchor="start" textLength="1.60" lengthAdjust="spacingAndGlyphs" >«</text>
<rect x="449.20" y="244.90" width="8.10" height="7.10" fill="#f1f1f1" stroke="#dcdcdc" stroke-width="0.4"/>
<text x="452.45" y="249.67" font-size="3.81" fill="#999" font-weight="normal" text-anchor="start" textLength="1.60" lengthAdjust="spacingAndGlyphs" >»</text>
<rect x="461.80" y="245.40" width="6.40" height="6.20" fill="#fafafa" stroke="#ececec" stroke-width="0.4"/>
<line x1="354.90" y1="253.80" x2="469.20" y2="253.80" stroke="#e2e2e2" stroke-width="0.5" />
<line x1="354.90" y1="262.80" x2="469.20" y2="262.80" stroke="#e0e0e0" stroke-width="0.5" />
<text x="359.70" y="260.06" font-size="4.06" fill="#aaa" font-weight="bold" text-anchor="start" textLength="7.30" lengthAdjust="spacingAndGlyphs" >Date</text>
<text x="395.40" y="260.06" font-size="4.06" fill="#aaa" font-weight="bold" text-anchor="start" textLength="27.60" lengthAdjust="spacingAndGlyphs" >Standard flow(CMS)</text>
<text x="432.50" y="260.06" font-size="4.06" fill="#aaa" font-weight="bold" text-anchor="start" textLength="27.20" lengthAdjust="spacingAndGlyphs" >Water Quality(mg/L)</text>
<line x1="391.10" y1="254.00" x2="391.10" y2="348.60" stroke="#e6e6e6" stroke-width="0.5" />
<line x1="427.70" y1="254.00" x2="427.70" y2="348.60" stroke="#e6e6e6" stroke-width="0.5" />
<text x="359.70" y="269.81" font-size="4.19" fill="#a2a2a2" font-weight="normal" text-anchor="start" textLength="17.30" lengthAdjust="spacingAndGlyphs" >01/01/2014</text>
<text x="395.40" y="269.81" font-size="4.19" fill="#a2a2a2" font-weight="normal" text-anchor="start" textLength="7.60" lengthAdjust="spacingAndGlyphs" >20.03</text>
<line x1="354.90" y1="272.65" x2="464.40" y2="272.65" stroke="#e9e9e9" stroke-width="0.5" stroke-dasharray="0.6 0.6"/>
<text x="359.70" y="278.51" font-size="4.19" fill="#a2a2a2" font-weight="normal" text-anchor="start" textLength="17.30" lengthAdjust="spacingAndGlyphs" >01/02/2014</text>
<text x="395.40" y="278.51" font-size="4.19" fill="#a2a2a2" font-weight="normal" text-anchor="start" textLength="7.60" lengthAdjust="spacingAndGlyphs" >20.55</text>
<line x1="354.90" y1="281.35" x2="464.40" y2="281.35" stroke="#e9e9e9" stroke-width="0.5" stroke-dasharray="0.6 0.6"/>
<text x="359.70" y="287.21" font-size="4.19" fill="#a2a2a2" font-weight="normal" text-anchor="start" textLength="17.30" lengthAdjust="spacingAndGlyphs" >01/04/2014</text>
<text x="395.40" y="287.21" font-size="4.19" fill="#a2a2a2" font-weight="normal" text-anchor="start" textLength="7.60" lengthAdjust="spacingAndGlyphs" >20.04</text>
<line x1="354.90" y1="290.05" x2="464.40" y2="290.05" stroke="#e9e9e9" stroke-width="0.5" stroke-dasharray="0.6 0.6"/>
<text x="359.70" y="295.91" font-size="4.19" fill="#a2a2a2" font-weight="normal" text-anchor="start" textLength="17.30" lengthAdjust="spacingAndGlyphs" >01/05/2014</text>
<text x="395.40" y="295.91" font-size="4.19" fill="#a2a2a2" font-weight="normal" text-anchor="start" textLength="7.60" lengthAdjust="spacingAndGlyphs" >20.08</text>
<line x1="354.90" y1="298.75" x2="464.40" y2="298.75" stroke="#e9e9e9" stroke-width="0.5" stroke-dasharray="0.6 0.6"/>
<text x="359.70" y="304.61" font-size="4.19" fill="#a2a2a2" font-weight="normal" text-anchor="start" textLength="17.30" lengthAdjust="spacingAndGlyphs" >01/06/2014</text>
<text x="395.40" y="304.61" font-size="4.19" fill="#a2a2a2" font-weight="normal" text-anchor="start" textLength="7.60" lengthAdjust="spacingAndGlyphs" >21.45</text>
<text x="433.00" y="304.61" font-size="4.19" fill="#a2a2a2" font-weight="normal" text-anchor="start" textLength="4.00" lengthAdjust="spacingAndGlyphs" >1.1</text>
<line x1="354.90" y1="307.45" x2="464.40" y2="307.45" stroke="#e9e9e9" stroke-width="0.5" stroke-dasharray="0.6 0.6"/>
<text x="359.70" y="313.31" font-size="4.19" fill="#a2a2a2" font-weight="normal" text-anchor="start" textLength="17.30" lengthAdjust="spacingAndGlyphs" >01/07/2014</text>
<text x="395.40" y="313.31" font-size="4.19" fill="#a2a2a2" font-weight="normal" text-anchor="start" textLength="7.60" lengthAdjust="spacingAndGlyphs" >20.05</text>
<line x1="354.90" y1="316.15" x2="464.40" y2="316.15" stroke="#e9e9e9" stroke-width="0.5" stroke-dasharray="0.6 0.6"/>
<text x="359.70" y="322.01" font-size="4.19" fill="#a2a2a2" font-weight="normal" text-anchor="start" textLength="17.30" lengthAdjust="spacingAndGlyphs" >01/08/2014</text>
<text x="395.40" y="322.01" font-size="4.19" fill="#a2a2a2" font-weight="normal" text-anchor="start" textLength="7.60" lengthAdjust="spacingAndGlyphs" >26.45</text>
<line x1="354.90" y1="324.85" x2="464.40" y2="324.85" stroke="#e9e9e9" stroke-width="0.5" stroke-dasharray="0.6 0.6"/>
<text x="359.70" y="330.71" font-size="4.19" fill="#a2a2a2" font-weight="normal" text-anchor="start" textLength="17.30" lengthAdjust="spacingAndGlyphs" >01/09/2014</text>
<text x="395.40" y="330.71" font-size="4.19" fill="#a2a2a2" font-weight="normal" text-anchor="start" textLength="7.60" lengthAdjust="spacingAndGlyphs" >22.01</text>
<line x1="354.90" y1="333.55" x2="464.40" y2="333.55" stroke="#e9e9e9" stroke-width="0.5" stroke-dasharray="0.6 0.6"/>
<text x="359.70" y="339.41" font-size="4.19" fill="#a2a2a2" font-weight="normal" text-anchor="start" textLength="17.30" lengthAdjust="spacingAndGlyphs" >01/10/2014</text>
<text x="395.40" y="339.41" font-size="4.19" fill="#a2a2a2" font-weight="normal" text-anchor="start" textLength="7.60" lengthAdjust="spacingAndGlyphs" >20.35</text>
<line x1="354.90" y1="342.25" x2="464.40" y2="342.25" stroke="#e9e9e9" stroke-width="0.5" stroke-dasharray="0.6 0.6"/>
<text x="359.70" y="348.11" font-size="4.19" fill="#a2a2a2" font-weight="normal" text-anchor="start" textLength="17.30" lengthAdjust="spacingAndGlyphs" >01/11/2014</text>
<text x="395.40" y="348.11" font-size="4.19" fill="#a2a2a2" font-weight="normal" text-anchor="start" textLength="7.60" lengthAdjust="spacingAndGlyphs" >23.48</text>
<rect x="354.90" y="348.60" width="114.30" height="4.40" fill="#fff" />
<rect x="464.40" y="263.00" width="4.80" height="85.60" fill="#f3f3f3" />
<rect x="465.00" y="267.50" width="3.80" height="4.20" fill="#b9b9b9" />
<path d="M465.9 265.8 l0.9 -1.2 l0.9 1.2z" fill="#666"/>
<path d="M465.9 344.9 l0.9 1.2 l0.9 -1.2z" fill="#666"/>
<rect x="354.90" y="348.80" width="109.50" height="3.90" fill="#f3f3f3" />
<rect x="359.70" y="349.20" width="97.60" height="3.20" fill="#bdbdbd" />
<path d="M357.6 349.9 l-1.1 0.9 l1.1 0.9z" fill="#666"/>
<path d="M460.4 349.9 l1.1 0.9 l-1.1 0.9z" fill="#666"/>
<line x1="354.90" y1="353.40" x2="469.20" y2="353.40" stroke="#e3e3e3" stroke-width="0.5" />
<text x="359.70" y="359.31" font-size="4.19" fill="#a6a6a6" font-weight="bold" text-anchor="start" textLength="23.10" lengthAdjust="spacingAndGlyphs" >No Data Found</text>
<rect x="356.80" y="362.50" width="109.90" height="7.60" fill="#f5f5f5" stroke="#e4e4e4" stroke-width="0.5"/>
<text x="401.70" y="367.71" font-size="4.19" fill="#a6a6a6" font-weight="bold" text-anchor="start" textLength="21.30" lengthAdjust="spacingAndGlyphs" >Download File</text>
<path d="M352.8 301 l1.3 0.9 l-1.3 0.9z" fill="#444"/>
<rect x="405.00" y="374.60" width="13.00" height="2.00" fill="#dfe9f0" />
<path d="M410.6 376.3 l1 -1.2 l1 1.2z" fill="#456"/>
<rect x="282.40" y="376.60" width="258.90" height="59.90" fill="#a9d4ef" />
<rect x="284.30" y="377.40" width="255.10" height="57.50" fill="#fff" />
<rect x="284.30" y="377.40" width="255.10" height="11.40" fill="#1f9fe0" />
<text x="290.30" y="385.49" font-size="6.35" fill="#fff" font-weight="bold" text-anchor="start" textLength="48.30" lengthAdjust="spacingAndGlyphs" >Pollutant analysis result</text>
<rect x="531.40" y="381.10" width="3.40" height="3.40" fill="none" stroke="#fff" stroke-width="0.5"/>
<path d="M532.2 382.3 h1.8 l-0.9 1.2z" fill="#fff"/>
<text x="287.70" y="394.91" font-size="4.19" fill="#a6a6a6" font-weight="bold" text-anchor="start" textLength="7.00" lengthAdjust="spacingAndGlyphs" >CODE</text>
<text x="310.60" y="394.91" font-size="4.19" fill="#a6a6a6" font-weight="bold" text-anchor="start" textLength="14.50" lengthAdjust="spacingAndGlyphs" >Pollutant</text>
<text x="349.30" y="394.91" font-size="4.19" fill="#a6a6a6" font-weight="bold" text-anchor="start" textLength="19.50" lengthAdjust="spacingAndGlyphs" >Target Load</text>
<text x="401.00" y="394.91" font-size="4.19" fill="#a6a6a6" font-weight="bold" text-anchor="start" textLength="21.00" lengthAdjust="spacingAndGlyphs" >Excess Load</text>
<text x="287.70" y="404.51" font-size="4.19" fill="#a6a6a6" font-weight="bold" text-anchor="start" textLength="11.50" lengthAdjust="spacingAndGlyphs" >CODE ID</text>
<text x="310.60" y="404.51" font-size="4.19" fill="#a6a6a6" font-weight="bold" text-anchor="start" textLength="20.50" lengthAdjust="spacingAndGlyphs" >Point Source</text>
<text x="349.30" y="404.51" font-size="4.19" fill="#a6a6a6" font-weight="bold" text-anchor="start" textLength="14.00" lengthAdjust="spacingAndGlyphs" >3,636.36</text>
<text x="401.00" y="404.51" font-size="4.19" fill="#a6a6a6" font-weight="bold" text-anchor="start" textLength="5.50" lengthAdjust="spacingAndGlyphs" >0.00</text>
<text x="310.60" y="413.11" font-size="4.19" fill="#a6a6a6" font-weight="bold" text-anchor="start" textLength="15.50" lengthAdjust="spacingAndGlyphs" >High-flow</text>
<text x="349.30" y="413.11" font-size="4.19" fill="#a6a6a6" font-weight="bold" text-anchor="start" textLength="25.50" lengthAdjust="spacingAndGlyphs" >Moist condition</text>
<text x="401.00" y="413.11" font-size="4.19" fill="#a6a6a6" font-weight="bold" text-anchor="start" textLength="25.50" lengthAdjust="spacingAndGlyphs" >Mid-range flow</text>
<text x="451.50" y="413.11" font-size="4.19" fill="#a6a6a6" font-weight="bold" text-anchor="start" textLength="23.50" lengthAdjust="spacingAndGlyphs" >Dry conditions</text>
<text x="501.00" y="413.11" font-size="4.19" fill="#a6a6a6" font-weight="bold" text-anchor="start" textLength="15.40" lengthAdjust="spacingAndGlyphs" >Low flow</text>
<text x="287.70" y="422.51" font-size="4.19" fill="#a6a6a6" font-weight="normal" text-anchor="start" textLength="8.20" lengthAdjust="spacingAndGlyphs" >Total</text>
<text x="310.60" y="422.51" font-size="4.19" fill="#a6a6a6" font-weight="normal" text-anchor="start" textLength="17.50" lengthAdjust="spacingAndGlyphs" >674,602.45</text>
<text x="349.30" y="422.51" font-size="4.19" fill="#a6a6a6" font-weight="normal" text-anchor="start" textLength="15.80" lengthAdjust="spacingAndGlyphs" >317,250.0</text>
<text x="401.00" y="422.51" font-size="4.19" fill="#a6a6a6" font-weight="normal" text-anchor="start" textLength="17.50" lengthAdjust="spacingAndGlyphs" >173,040.20</text>
<text x="451.50" y="422.51" font-size="4.19" fill="#a6a6a6" font-weight="normal" text-anchor="start" textLength="17.50" lengthAdjust="spacingAndGlyphs" >201,226.20</text>
<text x="501.00" y="422.51" font-size="4.19" fill="#a6a6a6" font-weight="normal" text-anchor="start" textLength="15.50" lengthAdjust="spacingAndGlyphs" >41,082.17</text>
<text x="287.70" y="431.31" font-size="4.19" fill="#a6a6a6" font-weight="normal" text-anchor="start" textLength="10.50" lengthAdjust="spacingAndGlyphs" >Excess</text>
<text x="310.60" y="431.31" font-size="4.19" fill="#a6a6a6" font-weight="normal" text-anchor="start" textLength="17.50" lengthAdjust="spacingAndGlyphs" >183,245.39</text>
<text x="349.30" y="431.31" font-size="4.19" fill="#a6a6a6" font-weight="normal" text-anchor="start" textLength="17.50" lengthAdjust="spacingAndGlyphs" >171,416.31</text>
<text x="401.00" y="431.31" font-size="4.19" fill="#a6a6a6" font-weight="normal" text-anchor="start" textLength="15.50" lengthAdjust="spacingAndGlyphs" >95,716.31</text>
<text x="451.50" y="431.31" font-size="4.19" fill="#a6a6a6" font-weight="normal" text-anchor="start" textLength="17.50" lengthAdjust="spacingAndGlyphs" >100,078.71</text>
<text x="501.00" y="431.31" font-size="4.19" fill="#a6a6a6" font-weight="normal" text-anchor="start" textLength="15.50" lengthAdjust="spacingAndGlyphs" >23,410.05</text>
<line x1="284.30" y1="397.60" x2="539.40" y2="397.60" stroke="#e1e1e1" stroke-width="0.5" />
<line x1="306.80" y1="407.20" x2="534.70" y2="407.20" stroke="#e1e1e1" stroke-width="0.5" stroke-dasharray="0.7 0.5"/>
<line x1="284.30" y1="415.80" x2="539.40" y2="415.80" stroke="#d6d6d6" stroke-width="0.5" />
<line x1="284.30" y1="425.50" x2="534.70" y2="425.50" stroke="#e1e1e1" stroke-width="0.5" stroke-dasharray="0.7 0.5"/>
<line x1="306.80" y1="389.00" x2="306.80" y2="435.00" stroke="#e1e1e1" stroke-width="0.5" />
<line x1="346.20" y1="389.00" x2="346.20" y2="435.00" stroke="#e1e1e1" stroke-width="0.5" />
<line x1="398.40" y1="389.00" x2="398.40" y2="435.00" stroke="#e1e1e1" stroke-width="0.5" />
<line x1="430.40" y1="398.00" x2="430.40" y2="407.00" stroke="#e1e1e1" stroke-width="0.5" />
<line x1="447.70" y1="407.20" x2="447.70" y2="435.00" stroke="#e1e1e1" stroke-width="0.5" />
<line x1="496.50" y1="407.20" x2="496.50" y2="435.00" stroke="#e1e1e1" stroke-width="0.5" />
<line x1="534.70" y1="398.00" x2="534.70" y2="435.00" stroke="#e1e1e1" stroke-width="0.5" />
</g>
</svg>
<div class="cap" id="cap-a" style="left:117.6px;top:216.4px;transform:scaleX(1.015)">(<b>a</b>) main</div>
<div class="cap" id="cap-b" style="left:393px;top:216.4px;transform:scaleX(0.983)">(<b>b</b>) LDC</div>
<div class="cap" id="cap-c" style="left:115.4px;top:438.4px;transform:scaleX(0.961)">(<b>c</b>) QLRC</div>
<div class="cap" id="cap-d" style="left:391.5px;top:437.7px;transform:scaleX(0.991)">(<b>d</b>) Table</div>
</body></html>
